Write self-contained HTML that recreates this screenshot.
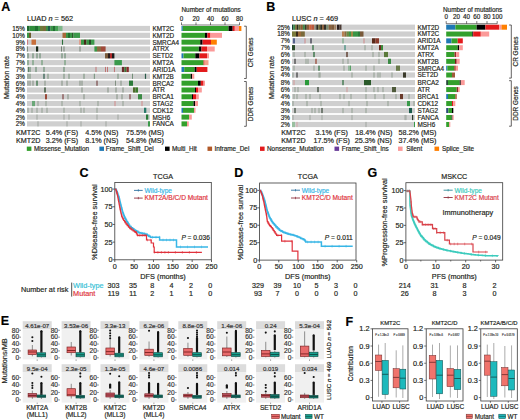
<!DOCTYPE html>
<html><head><meta charset="utf-8"><style>
html,body{margin:0;padding:0;background:#fff;}
svg{display:block;}
text{font-family:"Liberation Sans",sans-serif;stroke-width:0.18px;}
</style></head><body>
<svg width="520" height="420" viewBox="0 0 520 420" fill="#231f20">
<rect width="520" height="420" fill="#fff"/>
<text x="1.3" y="11.2" font-size="12.5" fill="#000" stroke="#000" font-weight="bold">A</text>
<text x="27" y="21.3" font-size="7.3" stroke="#231f20">LUAD <tspan font-style="italic">n</tspan> = 562</text>
<rect x="27" y="25.9" width="123" height="5.2" fill="#cfcfcf"/>
<text x="24.9" y="30.9" font-size="6.3" text-anchor="end" stroke="#231f20">15%</text>
<text x="152.5" y="30.9" font-size="6.4" stroke="#231f20">KMT2C</text>
<rect x="27" y="32.73" width="123" height="5.2" fill="#cfcfcf"/>
<text x="24.9" y="37.73" font-size="6.3" text-anchor="end" stroke="#231f20">10%</text>
<text x="152.5" y="37.73" font-size="6.4" stroke="#231f20">KMT2D</text>
<rect x="27" y="39.56" width="123" height="5.2" fill="#cfcfcf"/>
<text x="24.9" y="44.56" font-size="6.3" text-anchor="end" stroke="#231f20">9%</text>
<text x="152.5" y="44.56" font-size="6.4" stroke="#231f20">SMRCA4</text>
<rect x="27" y="46.39" width="123" height="5.2" fill="#cfcfcf"/>
<text x="24.9" y="51.39" font-size="6.3" text-anchor="end" stroke="#231f20">8%</text>
<text x="152.5" y="51.39" font-size="6.4" stroke="#231f20">ATRX</text>
<rect x="27" y="53.22" width="123" height="5.2" fill="#cfcfcf"/>
<text x="24.9" y="58.22" font-size="6.3" text-anchor="end" stroke="#231f20">7%</text>
<text x="152.5" y="58.22" font-size="6.4" stroke="#231f20">SETD2</text>
<rect x="27" y="60.05" width="123" height="5.2" fill="#cfcfcf"/>
<text x="24.9" y="65.05" font-size="6.3" text-anchor="end" stroke="#231f20">7%</text>
<text x="152.5" y="65.05" font-size="6.4" stroke="#231f20">KMT2A</text>
<rect x="27" y="66.88" width="123" height="5.2" fill="#cfcfcf"/>
<text x="24.9" y="71.88" font-size="6.3" text-anchor="end" stroke="#231f20">7%</text>
<text x="152.5" y="71.88" font-size="6.4" stroke="#231f20">ARID1A</text>
<rect x="27" y="73.71" width="123" height="5.2" fill="#cfcfcf"/>
<text x="24.9" y="78.71" font-size="6.3" text-anchor="end" stroke="#231f20">3%</text>
<text x="152.5" y="78.71" font-size="6.4" stroke="#231f20">KMT2B</text>
<rect x="27" y="80.6" width="123" height="5.2" fill="#cfcfcf"/>
<text x="24.9" y="85.6" font-size="6.3" text-anchor="end" stroke="#231f20">6%</text>
<text x="152.5" y="85.6" font-size="6.4" stroke="#231f20">BRCA2</text>
<rect x="27" y="87.38" width="123" height="5.2" fill="#cfcfcf"/>
<text x="24.9" y="92.38" font-size="6.3" text-anchor="end" stroke="#231f20">5%</text>
<text x="152.5" y="92.38" font-size="6.4" stroke="#231f20">ATR</text>
<rect x="27" y="94.16" width="123" height="5.2" fill="#cfcfcf"/>
<text x="24.9" y="99.16" font-size="6.3" text-anchor="end" stroke="#231f20">4%</text>
<text x="152.5" y="99.16" font-size="6.4" stroke="#231f20">BRCA1</text>
<rect x="27" y="100.94" width="123" height="5.2" fill="#cfcfcf"/>
<text x="24.9" y="105.94" font-size="6.3" text-anchor="end" stroke="#231f20">4%</text>
<text x="152.5" y="105.94" font-size="6.4" stroke="#231f20">STAG2</text>
<rect x="27" y="107.72" width="123" height="5.2" fill="#cfcfcf"/>
<text x="24.9" y="112.72" font-size="6.3" text-anchor="end" stroke="#231f20">4%</text>
<text x="152.5" y="112.72" font-size="6.4" stroke="#231f20">CDK12</text>
<rect x="27" y="114.5" width="123" height="5.2" fill="#cfcfcf"/>
<text x="24.9" y="119.5" font-size="6.3" text-anchor="end" stroke="#231f20">2%</text>
<text x="152.5" y="119.5" font-size="6.4" stroke="#231f20">MSH6</text>
<rect x="27" y="121.28" width="123" height="5.2" fill="#cfcfcf"/>
<text x="24.9" y="126.28" font-size="6.3" text-anchor="end" stroke="#231f20">2%</text>
<text x="152.5" y="126.28" font-size="6.4" stroke="#231f20">FANCA</text>
<rect x="27" y="25.9" width="2.5" height="5.2" fill="#1d6a2c"/>
<rect x="29.5" y="25.9" width="5.5" height="5.2" fill="#2f8d3c"/>
<rect x="35" y="25.9" width="3" height="5.2" fill="#1f6f30"/>
<rect x="38" y="25.9" width="2" height="5.2" fill="#3a9646"/>
<rect x="40" y="25.9" width="3" height="5.2" fill="#6d7a3a"/>
<rect x="43" y="25.9" width="3" height="5.2" fill="#7a6b3c"/>
<rect x="46" y="25.9" width="2" height="5.2" fill="#3c8d44"/>
<rect x="48" y="25.9" width="2.5" height="5.2" fill="#1d5a4c"/>
<rect x="50.5" y="25.9" width="2.5" height="5.2" fill="#3a9646"/>
<rect x="53" y="25.9" width="2" height="5.2" fill="#246e36"/>
<rect x="55" y="25.9" width="3.5" height="5.2" fill="#46a055"/>
<rect x="58.5" y="25.9" width="4" height="5.2" fill="#7fb88a"/>
<rect x="27" y="32.73" width="2" height="5.2" fill="#3a9646"/>
<rect x="29" y="32.73" width="2" height="5.2" fill="#6b5a2c"/>
<rect x="62.5" y="32.73" width="3.5" height="5.2" fill="#a8683a"/>
<rect x="66" y="32.73" width="2" height="5.2" fill="#3a9646"/>
<rect x="68" y="32.73" width="2" height="5.2" fill="#1f6f30"/>
<rect x="70" y="32.73" width="2" height="5.2" fill="#3a9646"/>
<rect x="72" y="32.73" width="1.5" height="5.2" fill="#2a5a2a"/>
<rect x="73.5" y="32.73" width="6.5" height="5.2" fill="#3e9a4c"/>
<rect x="27.15" y="39.56" width="0.9" height="5.2" fill="#d07070"/>
<rect x="31.5" y="39.56" width="4.5" height="5.2" fill="#c8703c"/>
<rect x="61.95" y="39.56" width="1.1" height="5.2" fill="#2c6e3a"/>
<rect x="79" y="39.56" width="2" height="5.2" fill="#e0a090"/>
<rect x="81" y="39.56" width="3" height="5.2" fill="#3a9646"/>
<rect x="84" y="39.56" width="2.5" height="5.2" fill="#4a2a1a"/>
<rect x="86.5" y="39.56" width="2.5" height="5.2" fill="#3a9646"/>
<rect x="89" y="39.56" width="2" height="5.2" fill="#2a4a2a"/>
<rect x="91" y="39.56" width="3.4" height="5.2" fill="#3e9a4c"/>
<rect x="26.85" y="46.39" width="0.9" height="5.2" fill="#6a7a6a"/>
<rect x="61.05" y="46.39" width="0.9" height="5.2" fill="#6a7a6a"/>
<rect x="63.55" y="46.39" width="0.9" height="5.2" fill="#6a7a6a"/>
<rect x="79.55" y="46.39" width="0.9" height="5.2" fill="#6a7a6a"/>
<rect x="36" y="46.39" width="2.2" height="5.2" fill="#1a2a1a"/>
<rect x="94.4" y="46.39" width="2.6" height="5.2" fill="#3a9646"/>
<rect x="97" y="46.39" width="4" height="5.2" fill="#8a6a40"/>
<rect x="101" y="46.39" width="4.6" height="5.2" fill="#a04a3a"/>
<rect x="27.55" y="53.22" width="0.9" height="5.2" fill="#4e7a5a"/>
<rect x="32.55" y="53.22" width="0.9" height="5.2" fill="#4e7a5a"/>
<rect x="36.55" y="53.22" width="0.9" height="5.2" fill="#4e7a5a"/>
<rect x="39.55" y="53.22" width="0.9" height="5.2" fill="#4e7a5a"/>
<rect x="61.55" y="53.22" width="0.9" height="5.2" fill="#4e7a5a"/>
<rect x="64.55" y="53.22" width="0.9" height="5.2" fill="#4e7a5a"/>
<rect x="105" y="53.22" width="3" height="5.2" fill="#7a5a3a"/>
<rect x="108" y="53.22" width="2" height="5.2" fill="#2a1a1a"/>
<rect x="110" y="53.22" width="2" height="5.2" fill="#b02a2a"/>
<rect x="112" y="53.22" width="2.4" height="5.2" fill="#1a1a1a"/>
<rect x="27.55" y="60.05" width="0.9" height="5.2" fill="#4e8a5a"/>
<rect x="32.55" y="60.05" width="0.9" height="5.2" fill="#4e8a5a"/>
<rect x="41.55" y="60.05" width="0.9" height="5.2" fill="#4e8a5a"/>
<rect x="64.55" y="60.05" width="0.9" height="5.2" fill="#4e8a5a"/>
<rect x="114.4" y="60.05" width="7.5" height="5.2" fill="#3a9a4c"/>
<rect x="28.05" y="66.88" width="0.9" height="5.2" fill="#4e7a5a"/>
<rect x="29.55" y="66.88" width="0.9" height="5.2" fill="#4e7a5a"/>
<rect x="35.55" y="66.88" width="0.9" height="5.2" fill="#4e7a5a"/>
<rect x="43.55" y="66.88" width="0.9" height="5.2" fill="#4e7a5a"/>
<rect x="63.55" y="66.88" width="0.9" height="5.2" fill="#4e7a5a"/>
<rect x="95.55" y="66.88" width="0.9" height="5.2" fill="#c06a6a"/>
<rect x="105.05" y="66.88" width="0.9" height="5.2" fill="#c06a6a"/>
<rect x="107.05" y="66.88" width="0.9" height="5.2" fill="#c06a6a"/>
<rect x="113.95" y="66.88" width="0.9" height="5.2" fill="#c06a6a"/>
<rect x="121.9" y="66.88" width="2.6" height="5.2" fill="#6a2a2a"/>
<rect x="124.5" y="66.88" width="2" height="5.2" fill="#3a7a3a"/>
<rect x="126.5" y="66.88" width="2.3" height="5.2" fill="#8a2a2a"/>
<rect x="27.55" y="73.71" width="0.9" height="5.2" fill="#6a8a70"/>
<rect x="29.55" y="73.71" width="0.9" height="5.2" fill="#6a8a70"/>
<rect x="47.55" y="73.71" width="0.9" height="5.2" fill="#6a8a70"/>
<rect x="63.55" y="73.71" width="0.9" height="5.2" fill="#6a8a70"/>
<rect x="68.55" y="73.71" width="0.9" height="5.2" fill="#6a8a70"/>
<rect x="83.55" y="73.71" width="0.9" height="5.2" fill="#6a8a70"/>
<rect x="93.85" y="73.71" width="0.9" height="5.2" fill="#6a8a70"/>
<rect x="117.55" y="73.71" width="0.9" height="5.2" fill="#6a8a70"/>
<rect x="132.05" y="73.71" width="0.9" height="5.2" fill="#6a8a70"/>
<rect x="43.4" y="73.71" width="1.2" height="5.2" fill="#2a5a4a"/>
<rect x="144.9" y="73.71" width="1.2" height="5.2" fill="#2a5a4a"/>
<rect x="27.55" y="80.6" width="0.9" height="5.2" fill="#7a8a7a"/>
<rect x="29.55" y="80.6" width="0.9" height="5.2" fill="#7a8a7a"/>
<rect x="32.55" y="80.6" width="0.9" height="5.2" fill="#7a8a7a"/>
<rect x="44.55" y="80.6" width="0.9" height="5.2" fill="#7a8a7a"/>
<rect x="61.55" y="80.6" width="0.9" height="5.2" fill="#7a8a7a"/>
<rect x="66.55" y="80.6" width="0.9" height="5.2" fill="#7a8a7a"/>
<rect x="79.55" y="80.6" width="0.9" height="5.2" fill="#7a8a7a"/>
<rect x="81.55" y="80.6" width="0.9" height="5.2" fill="#7a8a7a"/>
<rect x="115.05" y="80.6" width="0.9" height="5.2" fill="#7a8a7a"/>
<rect x="120.55" y="80.6" width="0.9" height="5.2" fill="#7a8a7a"/>
<rect x="36.4" y="80.6" width="1.2" height="5.2" fill="#2a6a3a"/>
<rect x="96.4" y="80.6" width="1.2" height="5.2" fill="#7a4a4a"/>
<rect x="129" y="80.6" width="4" height="5.2" fill="#2c7a3a"/>
<rect x="81.55" y="87.38" width="0.9" height="5.2" fill="#7a8a7a"/>
<rect x="107.55" y="87.38" width="0.9" height="5.2" fill="#7a8a7a"/>
<rect x="115.55" y="87.38" width="0.9" height="5.2" fill="#7a8a7a"/>
<rect x="122.55" y="87.38" width="0.9" height="5.2" fill="#7a8a7a"/>
<rect x="44.4" y="87.38" width="1.2" height="5.2" fill="#1a3a1a"/>
<rect x="133" y="87.38" width="2.5" height="5.2" fill="#4e6a2a"/>
<rect x="135.5" y="87.38" width="2.5" height="5.2" fill="#3a7a2a"/>
<rect x="67.55" y="94.16" width="0.9" height="5.2" fill="#7a8a7a"/>
<rect x="83.55" y="94.16" width="0.9" height="5.2" fill="#7a8a7a"/>
<rect x="116.55" y="94.16" width="0.9" height="5.2" fill="#7a8a7a"/>
<rect x="121.55" y="94.16" width="0.9" height="5.2" fill="#7a8a7a"/>
<rect x="45" y="94.16" width="2" height="5.2" fill="#9a4a3a"/>
<rect x="62.45" y="94.16" width="1.1" height="5.2" fill="#7a3a3a"/>
<rect x="129.45" y="94.16" width="1.1" height="5.2" fill="#7a3a3a"/>
<rect x="138" y="94.16" width="4" height="5.2" fill="#3a8a44"/>
<rect x="32" y="100.94" width="3" height="5.2" fill="#6aa878"/>
<rect x="37.55" y="100.94" width="0.9" height="5.2" fill="#8a9a8a"/>
<rect x="45.55" y="100.94" width="0.9" height="5.2" fill="#8a9a8a"/>
<rect x="61.55" y="100.94" width="0.9" height="5.2" fill="#8a9a8a"/>
<rect x="79.55" y="100.94" width="0.9" height="5.2" fill="#8a9a8a"/>
<rect x="97.55" y="100.94" width="0.9" height="5.2" fill="#8a9a8a"/>
<rect x="122.55" y="100.94" width="0.9" height="5.2" fill="#8a9a8a"/>
<rect x="114.55" y="100.94" width="0.9" height="5.2" fill="#d08080"/>
<rect x="141.55" y="100.94" width="0.9" height="5.2" fill="#d08080"/>
<rect x="27.55" y="107.72" width="0.9" height="5.2" fill="#8a9a8a"/>
<rect x="31.55" y="107.72" width="0.9" height="5.2" fill="#8a9a8a"/>
<rect x="36.55" y="107.72" width="0.9" height="5.2" fill="#8a9a8a"/>
<rect x="41.55" y="107.72" width="0.9" height="5.2" fill="#8a9a8a"/>
<rect x="46.55" y="107.72" width="0.9" height="5.2" fill="#8a9a8a"/>
<rect x="63.55" y="107.72" width="0.9" height="5.2" fill="#8a9a8a"/>
<rect x="80.55" y="107.72" width="0.9" height="5.2" fill="#8a9a8a"/>
<rect x="83.55" y="107.72" width="0.9" height="5.2" fill="#8a9a8a"/>
<rect x="96.55" y="107.72" width="0.9" height="5.2" fill="#8a9a8a"/>
<rect x="144" y="107.72" width="2.3" height="5.2" fill="#2a7a6a"/>
<rect x="36.55" y="114.5" width="0.9" height="5.2" fill="#9aa09a"/>
<rect x="63.55" y="114.5" width="0.9" height="5.2" fill="#9aa09a"/>
<rect x="68.55" y="114.5" width="0.9" height="5.2" fill="#9aa09a"/>
<rect x="96.55" y="114.5" width="0.9" height="5.2" fill="#9aa09a"/>
<rect x="117.55" y="114.5" width="0.9" height="5.2" fill="#9aa09a"/>
<rect x="146" y="114.5" width="2.3" height="5.2" fill="#2a7a3a"/>
<rect x="37.55" y="121.28" width="0.9" height="5.2" fill="#9aa09a"/>
<rect x="66.55" y="121.28" width="0.9" height="5.2" fill="#9aa09a"/>
<rect x="80.55" y="121.28" width="0.9" height="5.2" fill="#9aa09a"/>
<rect x="105.55" y="121.28" width="0.9" height="5.2" fill="#9aa09a"/>
<rect x="148" y="121.28" width="2" height="5.2" fill="#3a9a4a"/>
<rect x="181.5" y="26" width="1.3" height="5" fill="#1f78b4"/>
<rect x="182.8" y="26" width="45.7" height="5" fill="#33a02c"/>
<rect x="228.5" y="26" width="4.2" height="5" fill="#000000"/>
<rect x="232.7" y="26" width="2.1" height="5" fill="#e31a1c"/>
<rect x="234.8" y="26" width="4.2" height="5" fill="#fb9a99"/>
<rect x="239" y="26" width="2.4" height="5" fill="#ff7f00"/>
<rect x="181.5" y="32.83" width="23.5" height="5" fill="#33a02c"/>
<rect x="205" y="32.83" width="2.4" height="5" fill="#000000"/>
<rect x="207.4" y="32.83" width="3.1" height="5" fill="#e31a1c"/>
<rect x="210.5" y="32.83" width="11.5" height="5" fill="#fb9a99"/>
<rect x="181.5" y="39.66" width="18.7" height="5" fill="#33a02c"/>
<rect x="200.2" y="39.66" width="2.4" height="5" fill="#000000"/>
<rect x="202.6" y="39.66" width="8.4" height="5" fill="#e31a1c"/>
<rect x="211" y="39.66" width="5.8" height="5" fill="#ff7f00"/>
<rect x="181.5" y="46.49" width="17.3" height="5" fill="#33a02c"/>
<rect x="198.8" y="46.49" width="2.7" height="5" fill="#000000"/>
<rect x="201.5" y="46.49" width="5.5" height="5" fill="#e31a1c"/>
<rect x="207" y="46.49" width="7.7" height="5" fill="#fb9a99"/>
<rect x="181.5" y="53.32" width="2" height="5" fill="#1f78b4"/>
<rect x="183.5" y="53.32" width="11.8" height="5" fill="#33a02c"/>
<rect x="195.3" y="53.32" width="4.2" height="5" fill="#000000"/>
<rect x="199.5" y="53.32" width="7.5" height="5" fill="#e31a1c"/>
<rect x="207" y="53.32" width="2" height="5" fill="#fb9a99"/>
<rect x="181.5" y="60.15" width="22.1" height="5" fill="#33a02c"/>
<rect x="203.6" y="60.15" width="1" height="5" fill="#e31a1c"/>
<rect x="204.6" y="60.15" width="3.9" height="5" fill="#f4a08a"/>
<rect x="181.5" y="66.98" width="2.7" height="5" fill="#1f78b4"/>
<rect x="184.2" y="66.98" width="10.4" height="5" fill="#33a02c"/>
<rect x="194.6" y="66.98" width="2.1" height="5" fill="#000000"/>
<rect x="196.7" y="66.98" width="10.7" height="5" fill="#e31a1c"/>
<rect x="181.5" y="73.81" width="9.2" height="5" fill="#33a02c"/>
<rect x="190.7" y="73.81" width="1.4" height="5" fill="#000000"/>
<rect x="192.1" y="73.81" width="2.2" height="5" fill="#fb9a99"/>
<rect x="181.5" y="80.7" width="16.5" height="5" fill="#33a02c"/>
<rect x="198" y="80.7" width="2.8" height="5" fill="#000000"/>
<rect x="200.8" y="80.7" width="2.8" height="5" fill="#e31a1c"/>
<rect x="203.6" y="80.7" width="1.4" height="5" fill="#fb9a99"/>
<rect x="181.5" y="87.48" width="13.4" height="5" fill="#33a02c"/>
<rect x="194.9" y="87.48" width="1.1" height="5" fill="#000000"/>
<rect x="196" y="87.48" width="2" height="5" fill="#e31a1c"/>
<rect x="198" y="87.48" width="3.8" height="5" fill="#fb9a99"/>
<rect x="181.5" y="94.26" width="10.4" height="5" fill="#33a02c"/>
<rect x="191.9" y="94.26" width="1.1" height="5" fill="#000000"/>
<rect x="193" y="94.26" width="3" height="5" fill="#e31a1c"/>
<rect x="196" y="94.26" width="2.8" height="5" fill="#fb9a99"/>
<rect x="181.5" y="101.04" width="12" height="5" fill="#33a02c"/>
<rect x="193.5" y="101.04" width="1.5" height="5" fill="#000000"/>
<rect x="195" y="101.04" width="3" height="5" fill="#fb9a99"/>
<rect x="181.5" y="107.82" width="1.5" height="5" fill="#1f78b4"/>
<rect x="183" y="107.82" width="11" height="5" fill="#33a02c"/>
<rect x="194" y="107.82" width="1.5" height="5" fill="#fb9a99"/>
<rect x="181.5" y="114.6" width="7.5" height="5" fill="#33a02c"/>
<rect x="189" y="114.6" width="2.8" height="5" fill="#fb9a99"/>
<rect x="181.5" y="121.38" width="5.5" height="5" fill="#33a02c"/>
<rect x="187" y="121.38" width="1.8" height="5" fill="#fb9a99"/>
<line x1="181.5" y1="25" x2="239.5" y2="25" stroke="#231f20" stroke-width="0.6"/>
<line x1="181.5" y1="22.4" x2="181.5" y2="25" stroke="#231f20" stroke-width="0.6"/>
<text x="181.5" y="20.7" font-size="6.3" text-anchor="middle" stroke="#231f20">0</text>
<line x1="196" y1="22.4" x2="196" y2="25" stroke="#231f20" stroke-width="0.6"/>
<text x="196" y="20.7" font-size="6.3" text-anchor="middle" stroke="#231f20">20</text>
<line x1="210.5" y1="22.4" x2="210.5" y2="25" stroke="#231f20" stroke-width="0.6"/>
<text x="210.5" y="20.7" font-size="6.3" text-anchor="middle" stroke="#231f20">40</text>
<line x1="225" y1="22.4" x2="225" y2="25" stroke="#231f20" stroke-width="0.6"/>
<text x="225" y="20.7" font-size="6.3" text-anchor="middle" stroke="#231f20">60</text>
<line x1="239.5" y1="22.4" x2="239.5" y2="25" stroke="#231f20" stroke-width="0.6"/>
<text x="239.5" y="20.7" font-size="6.3" text-anchor="middle" stroke="#231f20">80</text>
<text x="181.5" y="11.5" font-size="6.4" stroke="#231f20">Number of mutations</text>
<polyline points="244.1,26.2 246.3,26.2 246.3,78.5 244.1,78.5" fill="none" stroke="#231f20" stroke-width="0.7"/>
<text x="253.5" y="52.35" font-size="6.4" text-anchor="middle" stroke="#231f20" transform="rotate(-90 253.5 52.35)">CR Genes</text>
<polyline points="244.1,81.5 246.3,81.5 246.3,126.3 244.1,126.3" fill="none" stroke="#231f20" stroke-width="0.7"/>
<text x="253.5" y="103.9" font-size="6.4" text-anchor="middle" stroke="#231f20" transform="rotate(-90 253.5 103.9)">DDR Genes</text>
<text x="9.3" y="77.5" font-size="7.4" text-anchor="middle" stroke="#231f20" transform="rotate(-90 9.3 77.5)">Mutation rate</text>
<text x="266.3" y="11.2" font-size="12.5" fill="#000" stroke="#000" font-weight="bold">B</text>
<text x="292" y="21.3" font-size="7.3" stroke="#231f20">LUSC <tspan font-style="italic">n</tspan> = 469</text>
<rect x="292" y="24.6" width="123" height="5.2" fill="#cfcfcf"/>
<text x="289.9" y="29.6" font-size="6.3" text-anchor="end" stroke="#231f20">25%</text>
<text x="417.5" y="29.6" font-size="6.4" stroke="#231f20">KMT2D</text>
<rect x="292" y="31.43" width="123" height="5.2" fill="#cfcfcf"/>
<text x="289.9" y="36.43" font-size="6.3" text-anchor="end" stroke="#231f20">18%</text>
<text x="417.5" y="36.43" font-size="6.4" stroke="#231f20">KMT2C</text>
<rect x="292" y="38.26" width="123" height="5.2" fill="#cfcfcf"/>
<text x="289.9" y="43.26" font-size="6.3" text-anchor="end" stroke="#231f20">7%</text>
<text x="417.5" y="43.26" font-size="6.4" stroke="#231f20">ARID1A</text>
<rect x="292" y="45.09" width="123" height="5.2" fill="#cfcfcf"/>
<text x="289.9" y="50.09" font-size="6.3" text-anchor="end" stroke="#231f20">7%</text>
<text x="417.5" y="50.09" font-size="6.4" stroke="#231f20">KMT2A</text>
<rect x="292" y="51.92" width="123" height="5.2" fill="#cfcfcf"/>
<text x="289.9" y="56.92" font-size="6.3" text-anchor="end" stroke="#231f20">6%</text>
<text x="417.5" y="56.92" font-size="6.4" stroke="#231f20">ATRX</text>
<rect x="292" y="58.75" width="123" height="5.2" fill="#cfcfcf"/>
<text x="289.9" y="63.75" font-size="6.3" text-anchor="end" stroke="#231f20">6%</text>
<text x="417.5" y="63.75" font-size="6.4" stroke="#231f20">KMT2B</text>
<rect x="292" y="65.58" width="123" height="5.2" fill="#cfcfcf"/>
<text x="289.9" y="70.58" font-size="6.3" text-anchor="end" stroke="#231f20">5%</text>
<text x="417.5" y="70.58" font-size="6.4" stroke="#231f20">SMRCA4</text>
<rect x="292" y="72.41" width="123" height="5.2" fill="#cfcfcf"/>
<text x="289.9" y="77.41" font-size="6.3" text-anchor="end" stroke="#231f20">4%</text>
<text x="417.5" y="77.41" font-size="6.4" stroke="#231f20">SET2D</text>
<rect x="292" y="80" width="123" height="5.2" fill="#cfcfcf"/>
<text x="289.9" y="85" font-size="6.3" text-anchor="end" stroke="#231f20">8%</text>
<text x="417.5" y="85" font-size="6.4" stroke="#231f20">BRCA2</text>
<rect x="292" y="86.98" width="123" height="5.2" fill="#cfcfcf"/>
<text x="289.9" y="91.98" font-size="6.3" text-anchor="end" stroke="#231f20">6%</text>
<text x="417.5" y="91.98" font-size="6.4" stroke="#231f20">ATR</text>
<rect x="292" y="93.96" width="123" height="5.2" fill="#cfcfcf"/>
<text x="289.9" y="98.96" font-size="6.3" text-anchor="end" stroke="#231f20">4%</text>
<text x="417.5" y="98.96" font-size="6.4" stroke="#231f20">BRCA1</text>
<rect x="292" y="100.94" width="123" height="5.2" fill="#cfcfcf"/>
<text x="289.9" y="105.94" font-size="6.3" text-anchor="end" stroke="#231f20">4%</text>
<text x="417.5" y="105.94" font-size="6.4" stroke="#231f20">CDK12</text>
<rect x="292" y="107.92" width="123" height="5.2" fill="#cfcfcf"/>
<text x="289.9" y="112.92" font-size="6.3" text-anchor="end" stroke="#231f20">3%</text>
<text x="417.5" y="112.92" font-size="6.4" stroke="#231f20">STAG2</text>
<rect x="292" y="114.9" width="123" height="5.2" fill="#cfcfcf"/>
<text x="289.9" y="119.9" font-size="6.3" text-anchor="end" stroke="#231f20">3%</text>
<text x="417.5" y="119.9" font-size="6.4" stroke="#231f20">FANCA</text>
<rect x="292" y="121.88" width="123" height="5.2" fill="#cfcfcf"/>
<text x="289.9" y="126.88" font-size="6.3" text-anchor="end" stroke="#231f20">2%</text>
<text x="417.5" y="126.88" font-size="6.4" stroke="#231f20">MSH6</text>
<rect x="292" y="24.6" width="1.2" height="5.2" fill="#1a3a34"/>
<rect x="293.2" y="24.6" width="1.9" height="5.2" fill="#3a8a4a"/>
<rect x="295.1" y="24.6" width="1.9" height="5.2" fill="#7a6a3a"/>
<rect x="297" y="24.6" width="1.4" height="5.2" fill="#2a2a1e"/>
<rect x="298.4" y="24.6" width="1.9" height="5.2" fill="#6a6e36"/>
<rect x="300.3" y="24.6" width="2.6" height="5.2" fill="#8a5e36"/>
<rect x="302.9" y="24.6" width="1.9" height="5.2" fill="#3e8a48"/>
<rect x="304.8" y="24.6" width="1.9" height="5.2" fill="#3a3a26"/>
<rect x="306.7" y="24.6" width="2.6" height="5.2" fill="#8a5a36"/>
<rect x="309.3" y="24.6" width="1.9" height="5.2" fill="#d0603a"/>
<rect x="311.2" y="24.6" width="3.2" height="5.2" fill="#b85a3e"/>
<rect x="314.4" y="24.6" width="1.9" height="5.2" fill="#8a8a7a"/>
<rect x="316.3" y="24.6" width="2" height="5.2" fill="#2a2a1e"/>
<rect x="318.3" y="24.6" width="1.9" height="5.2" fill="#6e6a3a"/>
<rect x="320.2" y="24.6" width="1.9" height="5.2" fill="#2e2e22"/>
<rect x="322.1" y="24.6" width="1.9" height="5.2" fill="#8a5e3a"/>
<rect x="324" y="24.6" width="2" height="5.2" fill="#34302a"/>
<rect x="326" y="24.6" width="2.6" height="5.2" fill="#7a8a72"/>
<rect x="328.6" y="24.6" width="2.5" height="5.2" fill="#8a623e"/>
<rect x="331.1" y="24.6" width="3.2" height="5.2" fill="#7e5a3a"/>
<rect x="334.3" y="24.6" width="2" height="5.2" fill="#a08060"/>
<rect x="336.3" y="24.6" width="0.7" height="5.2" fill="#c0b0a8"/>
<rect x="337" y="24.6" width="2.5" height="5.2" fill="#2a1e1e"/>
<rect x="339.5" y="24.6" width="1.9" height="5.2" fill="#4a3a34"/>
<rect x="341.4" y="24.6" width="0.6" height="5.2" fill="#8a8080"/>
<rect x="292" y="31.43" width="4" height="5.2" fill="#7a7a3a"/>
<rect x="296" y="31.43" width="2" height="5.2" fill="#3a2a1a"/>
<rect x="298" y="31.43" width="3" height="5.2" fill="#9a6a3a"/>
<rect x="301" y="31.43" width="3.8" height="5.2" fill="#7a6a3a"/>
<rect x="342" y="31.43" width="2.5" height="5.2" fill="#b88050"/>
<rect x="344.5" y="31.43" width="2" height="5.2" fill="#8a6a3e"/>
<rect x="346.5" y="31.43" width="2.5" height="5.2" fill="#6a8a44"/>
<rect x="349" y="31.43" width="2" height="5.2" fill="#3a9646"/>
<rect x="351" y="31.43" width="2" height="5.2" fill="#a08a44"/>
<rect x="353" y="31.43" width="5" height="5.2" fill="#3a9646"/>
<rect x="358" y="31.43" width="2" height="5.2" fill="#2e7a3a"/>
<rect x="360" y="31.43" width="3.5" height="5.2" fill="#7a5a3a"/>
<rect x="292" y="38.26" width="13" height="5.2" fill="#c8ccd6"/>
<rect x="293.2" y="38.26" width="1.6" height="5.2" fill="#3a4a7a"/>
<rect x="304.45" y="38.26" width="1.1" height="5.2" fill="#d09090"/>
<rect x="363.45" y="38.26" width="1.1" height="5.2" fill="#d09090"/>
<rect x="310.35" y="38.26" width="1.3" height="5.2" fill="#3a3a4a"/>
<rect x="342.55" y="38.26" width="0.9" height="5.2" fill="#5a9a6a"/>
<rect x="372" y="38.26" width="3.5" height="5.2" fill="#5a2a1a"/>
<rect x="375.5" y="38.26" width="3.5" height="5.2" fill="#8a3a2a"/>
<rect x="292" y="45.09" width="3" height="5.2" fill="#2a4a2a"/>
<rect x="312.4" y="45.09" width="1.2" height="5.2" fill="#2a6a3a"/>
<rect x="344.4" y="45.09" width="1.2" height="5.2" fill="#3a8a7a"/>
<rect x="364.55" y="45.09" width="0.9" height="5.2" fill="#8a9a8a"/>
<rect x="371.55" y="45.09" width="0.9" height="5.2" fill="#8a9a8a"/>
<rect x="379" y="45.09" width="2" height="5.2" fill="#6a2a1a"/>
<rect x="381" y="45.09" width="2" height="5.2" fill="#3a8a3a"/>
<rect x="293.55" y="51.92" width="0.9" height="5.2" fill="#8a9a8a"/>
<rect x="304.55" y="51.92" width="0.9" height="5.2" fill="#8a9a8a"/>
<rect x="372.55" y="51.92" width="0.9" height="5.2" fill="#8a9a8a"/>
<rect x="378.55" y="51.92" width="0.9" height="5.2" fill="#8a9a8a"/>
<rect x="313.35" y="51.92" width="1.3" height="5.2" fill="#2a6a3a"/>
<rect x="346.3" y="51.92" width="1.4" height="5.2" fill="#5a3a2a"/>
<rect x="384" y="51.92" width="4" height="5.2" fill="#5a7a3a"/>
<rect x="305.55" y="58.75" width="0.9" height="5.2" fill="#8a9a8a"/>
<rect x="307.55" y="58.75" width="0.9" height="5.2" fill="#8a9a8a"/>
<rect x="342.55" y="58.75" width="0.9" height="5.2" fill="#8a9a8a"/>
<rect x="347.55" y="58.75" width="0.9" height="5.2" fill="#8a9a8a"/>
<rect x="378.55" y="58.75" width="0.9" height="5.2" fill="#8a9a8a"/>
<rect x="294.4" y="58.75" width="1.2" height="5.2" fill="#3a3a3a"/>
<rect x="315.35" y="58.75" width="1.3" height="5.2" fill="#9a4a3a"/>
<rect x="388" y="58.75" width="3" height="5.2" fill="#3a8a44"/>
<rect x="293.55" y="65.58" width="0.9" height="5.2" fill="#8a9a8a"/>
<rect x="313.55" y="65.58" width="0.9" height="5.2" fill="#8a9a8a"/>
<rect x="343.55" y="65.58" width="0.9" height="5.2" fill="#8a9a8a"/>
<rect x="365.55" y="65.58" width="0.9" height="5.2" fill="#8a9a8a"/>
<rect x="373.55" y="65.58" width="0.9" height="5.2" fill="#8a9a8a"/>
<rect x="318.4" y="65.58" width="1.2" height="5.2" fill="#2a6a3a"/>
<rect x="348.55" y="65.58" width="0.9" height="5.2" fill="#4a9a5a"/>
<rect x="350.05" y="65.58" width="0.9" height="5.2" fill="#4a9a5a"/>
<rect x="396" y="65.58" width="4" height="5.2" fill="#6a7a4a"/>
<rect x="292.55" y="72.41" width="0.9" height="5.2" fill="#8a9a8a"/>
<rect x="318.55" y="72.41" width="0.9" height="5.2" fill="#8a9a8a"/>
<rect x="319.55" y="72.41" width="0.9" height="5.2" fill="#8a9a8a"/>
<rect x="351.55" y="72.41" width="0.9" height="5.2" fill="#8a9a8a"/>
<rect x="373.55" y="72.41" width="0.9" height="5.2" fill="#8a9a8a"/>
<rect x="377.55" y="72.41" width="0.9" height="5.2" fill="#8a9a8a"/>
<rect x="379.55" y="72.41" width="0.9" height="5.2" fill="#8a9a8a"/>
<rect x="391.55" y="72.41" width="0.9" height="5.2" fill="#8a9a8a"/>
<rect x="296.4" y="72.41" width="1.2" height="5.2" fill="#3a3a3a"/>
<rect x="403" y="72.41" width="3" height="5.2" fill="#3a3a2a"/>
<rect x="293.55" y="80" width="0.9" height="5.2" fill="#d09090"/>
<rect x="305" y="80" width="4" height="5.2" fill="#2a9a3a"/>
<rect x="342.4" y="80" width="1.2" height="5.2" fill="#2a6a3a"/>
<rect x="364" y="80" width="7" height="5.2" fill="#2a5a2a"/>
<rect x="294.55" y="86.98" width="0.9" height="5.2" fill="#8a9a8a"/>
<rect x="297.55" y="86.98" width="0.9" height="5.2" fill="#8a9a8a"/>
<rect x="365.55" y="86.98" width="0.9" height="5.2" fill="#8a9a8a"/>
<rect x="373.55" y="86.98" width="0.9" height="5.2" fill="#8a9a8a"/>
<rect x="377.55" y="86.98" width="0.9" height="5.2" fill="#8a9a8a"/>
<rect x="382.55" y="86.98" width="0.9" height="5.2" fill="#8a9a8a"/>
<rect x="317.4" y="86.98" width="1.2" height="5.2" fill="#2a3a2a"/>
<rect x="346.55" y="86.98" width="0.9" height="5.2" fill="#d09090"/>
<rect x="392" y="86.98" width="4" height="5.2" fill="#4e5a3a"/>
<rect x="293.55" y="93.96" width="0.9" height="5.2" fill="#8a9a8a"/>
<rect x="296.55" y="93.96" width="0.9" height="5.2" fill="#8a9a8a"/>
<rect x="305.55" y="93.96" width="0.9" height="5.2" fill="#8a9a8a"/>
<rect x="309.55" y="93.96" width="0.9" height="5.2" fill="#8a9a8a"/>
<rect x="319.55" y="93.96" width="0.9" height="5.2" fill="#8a9a8a"/>
<rect x="339.55" y="93.96" width="0.9" height="5.2" fill="#8a9a8a"/>
<rect x="343.55" y="93.96" width="0.9" height="5.2" fill="#8a9a8a"/>
<rect x="350.55" y="93.96" width="0.9" height="5.2" fill="#8a9a8a"/>
<rect x="365.55" y="93.96" width="0.9" height="5.2" fill="#8a9a8a"/>
<rect x="374.55" y="93.96" width="0.9" height="5.2" fill="#8a9a8a"/>
<rect x="383.55" y="93.96" width="0.9" height="5.2" fill="#8a9a8a"/>
<rect x="395.55" y="93.96" width="0.9" height="5.2" fill="#8a9a8a"/>
<rect x="408.55" y="93.96" width="0.9" height="5.2" fill="#8a9a8a"/>
<rect x="400" y="93.96" width="3" height="5.2" fill="#6a3a2a"/>
<rect x="292.55" y="100.94" width="0.9" height="5.2" fill="#8a9a8a"/>
<rect x="306.55" y="100.94" width="0.9" height="5.2" fill="#8a9a8a"/>
<rect x="320.55" y="100.94" width="0.9" height="5.2" fill="#8a9a8a"/>
<rect x="348.55" y="100.94" width="0.9" height="5.2" fill="#8a9a8a"/>
<rect x="366.55" y="100.94" width="0.9" height="5.2" fill="#8a9a8a"/>
<rect x="387.55" y="100.94" width="0.9" height="5.2" fill="#8a9a8a"/>
<rect x="413.55" y="100.94" width="0.9" height="5.2" fill="#8a9a8a"/>
<rect x="407" y="100.94" width="3" height="5.2" fill="#3a9a4a"/>
<rect x="311.55" y="107.92" width="0.9" height="5.2" fill="#8a9a8a"/>
<rect x="314.55" y="107.92" width="0.9" height="5.2" fill="#8a9a8a"/>
<rect x="318.55" y="107.92" width="0.9" height="5.2" fill="#8a9a8a"/>
<rect x="342.55" y="107.92" width="0.9" height="5.2" fill="#8a9a8a"/>
<rect x="351.55" y="107.92" width="0.9" height="5.2" fill="#8a9a8a"/>
<rect x="365.55" y="107.92" width="0.9" height="5.2" fill="#8a9a8a"/>
<rect x="294.45" y="107.92" width="1.1" height="5.2" fill="#2a3a2a"/>
<rect x="321.45" y="107.92" width="1.1" height="5.2" fill="#2a3a2a"/>
<rect x="409" y="107.92" width="3" height="5.2" fill="#1a5a4a"/>
<rect x="292.55" y="114.9" width="0.9" height="5.2" fill="#9aa09a"/>
<rect x="309.55" y="114.9" width="0.9" height="5.2" fill="#9aa09a"/>
<rect x="321.55" y="114.9" width="0.9" height="5.2" fill="#9aa09a"/>
<rect x="351.55" y="114.9" width="0.9" height="5.2" fill="#9aa09a"/>
<rect x="404.55" y="114.9" width="0.9" height="5.2" fill="#9aa09a"/>
<rect x="405.55" y="114.9" width="0.9" height="5.2" fill="#9aa09a"/>
<rect x="412" y="114.9" width="1.2" height="5.2" fill="#2a3a2a"/>
<rect x="292" y="121.88" width="3" height="5.2" fill="#9ac0a0"/>
<rect x="296.55" y="121.88" width="0.9" height="5.2" fill="#d0a0a0"/>
<rect x="365.55" y="121.88" width="0.9" height="5.2" fill="#9aa09a"/>
<rect x="414" y="121.88" width="1" height="5.2" fill="#3a9a4a"/>
<rect x="446.2" y="24.7" width="9.2" height="5" fill="#1f78b4"/>
<rect x="455.4" y="24.7" width="21.2" height="5" fill="#33a02c"/>
<rect x="476.6" y="24.7" width="8.8" height="5" fill="#000000"/>
<rect x="485.4" y="24.7" width="13.8" height="5" fill="#e31a1c"/>
<rect x="499.2" y="24.7" width="2.3" height="5" fill="#fb9a99"/>
<rect x="501.5" y="24.7" width="5.5" height="5" fill="#ff7f00"/>
<rect x="446.2" y="31.53" width="26.1" height="5" fill="#33a02c"/>
<rect x="472.3" y="31.53" width="0.9" height="5" fill="#000000"/>
<rect x="473.2" y="31.53" width="7.6" height="5" fill="#e31a1c"/>
<rect x="480.8" y="31.53" width="8.4" height="5" fill="#fb9a99"/>
<rect x="446.2" y="38.36" width="5.3" height="5" fill="#1f78b4"/>
<rect x="451.5" y="38.36" width="6.2" height="5" fill="#33a02c"/>
<rect x="457.7" y="38.36" width="5.1" height="5" fill="#e31a1c"/>
<rect x="446.2" y="45.19" width="11.5" height="5" fill="#33a02c"/>
<rect x="457.7" y="45.19" width="1.5" height="5" fill="#000000"/>
<rect x="459.2" y="45.19" width="3.6" height="5" fill="#fb9a99"/>
<rect x="446.2" y="52.02" width="8.4" height="5" fill="#33a02c"/>
<rect x="454.6" y="52.02" width="1.6" height="5" fill="#9a2a2a"/>
<rect x="456.2" y="52.02" width="3" height="5" fill="#fb9a99"/>
<rect x="446.2" y="58.85" width="8.8" height="5" fill="#33a02c"/>
<rect x="455" y="58.85" width="1.7" height="5" fill="#7a1a1a"/>
<rect x="456.7" y="58.85" width="3" height="5" fill="#fb9a99"/>
<rect x="446.2" y="65.68" width="1.1" height="5" fill="#1f78b4"/>
<rect x="447.3" y="65.68" width="6.9" height="5" fill="#33a02c"/>
<rect x="454.2" y="65.68" width="1.6" height="5" fill="#a0402a"/>
<rect x="455.8" y="65.68" width="2.2" height="5" fill="#fb9a99"/>
<rect x="446.2" y="72.51" width="5.8" height="5" fill="#33a02c"/>
<rect x="452" y="72.51" width="3" height="5" fill="#a05a3a"/>
<rect x="446.2" y="80.1" width="1.8" height="5" fill="#2a4a3a"/>
<rect x="448" y="80.1" width="11.7" height="5" fill="#33a02c"/>
<rect x="459.7" y="80.1" width="1.1" height="5" fill="#000000"/>
<rect x="460.8" y="80.1" width="3.9" height="5" fill="#fb9a99"/>
<rect x="446.2" y="87.08" width="10.5" height="5" fill="#33a02c"/>
<rect x="456.7" y="87.08" width="1.3" height="5" fill="#8a2a2a"/>
<rect x="458" y="87.08" width="1.7" height="5" fill="#fb9a99"/>
<rect x="446.2" y="94.06" width="1.8" height="5" fill="#1f78b4"/>
<rect x="448" y="94.06" width="7.3" height="5" fill="#33a02c"/>
<rect x="455.3" y="94.06" width="1.4" height="5" fill="#a0502a"/>
<rect x="446.2" y="101.04" width="5.8" height="5" fill="#33a02c"/>
<rect x="452" y="101.04" width="1.3" height="5" fill="#e31a1c"/>
<rect x="453.3" y="101.04" width="2" height="5" fill="#fb9a99"/>
<rect x="446.2" y="108.02" width="2.1" height="5" fill="#2a4a7a"/>
<rect x="448.3" y="108.02" width="3.7" height="5" fill="#33a02c"/>
<rect x="452" y="108.02" width="1.3" height="5" fill="#000000"/>
<rect x="446.2" y="115" width="5.5" height="5" fill="#33a02c"/>
<rect x="451.7" y="115" width="0.8" height="5" fill="#000000"/>
<rect x="452.5" y="115" width="1.2" height="5" fill="#fb9a99"/>
<rect x="446.2" y="121.98" width="3" height="5" fill="#33a02c"/>
<rect x="449.2" y="121.98" width="1.1" height="5" fill="#fb9a99"/>
<line x1="446.2" y1="23.7" x2="497.2" y2="23.7" stroke="#231f20" stroke-width="0.6"/>
<line x1="446.2" y1="21.1" x2="446.2" y2="23.7" stroke="#231f20" stroke-width="0.6"/>
<text x="446.2" y="19.4" font-size="6.3" text-anchor="middle" stroke="#231f20">0</text>
<line x1="456.4" y1="21.1" x2="456.4" y2="23.7" stroke="#231f20" stroke-width="0.6"/>
<text x="456.4" y="19.4" font-size="6.3" text-anchor="middle" stroke="#231f20">20</text>
<line x1="466.6" y1="21.1" x2="466.6" y2="23.7" stroke="#231f20" stroke-width="0.6"/>
<text x="466.6" y="19.4" font-size="6.3" text-anchor="middle" stroke="#231f20">40</text>
<line x1="476.8" y1="21.1" x2="476.8" y2="23.7" stroke="#231f20" stroke-width="0.6"/>
<text x="476.8" y="19.4" font-size="6.3" text-anchor="middle" stroke="#231f20">60</text>
<line x1="487" y1="21.1" x2="487" y2="23.7" stroke="#231f20" stroke-width="0.6"/>
<text x="487" y="19.4" font-size="6.3" text-anchor="middle" stroke="#231f20">80</text>
<line x1="497.2" y1="21.1" x2="497.2" y2="23.7" stroke="#231f20" stroke-width="0.6"/>
<text x="497.2" y="19.4" font-size="6.3" text-anchor="middle" stroke="#231f20">100</text>
<text x="443" y="11.5" font-size="6.4" stroke="#231f20">Number of mutations</text>
<polyline points="509.1,25 511.3,25 511.3,78.1 509.1,78.1" fill="none" stroke="#231f20" stroke-width="0.7"/>
<text x="518.5" y="51.55" font-size="6.4" text-anchor="middle" stroke="#231f20" transform="rotate(-90 518.5 51.55)">CR Genes</text>
<polyline points="509.1,80.7 511.3,80.7 511.3,126.2 509.1,126.2" fill="none" stroke="#231f20" stroke-width="0.7"/>
<text x="518.5" y="103.45" font-size="6.4" text-anchor="middle" stroke="#231f20" transform="rotate(-90 518.5 103.45)">DDR Genes</text>
<text x="274.3" y="77.5" font-size="7.4" text-anchor="middle" stroke="#231f20" transform="rotate(-90 274.3 77.5)">Mutation rate</text>
<text x="16" y="134.7" font-size="7.2" stroke="#231f20">KMT2C</text>
<text x="45.8" y="134.7" font-size="7.2" stroke="#231f20">5.4% (FS)</text>
<text x="85.2" y="134.7" font-size="7.2" stroke="#231f20">4.5% (NS)</text>
<text x="126" y="134.7" font-size="7.2" stroke="#231f20">75.5% (MS)</text>
<text x="16" y="143.1" font-size="7.2" stroke="#231f20">KMT2D</text>
<text x="45.8" y="143.1" font-size="7.2" stroke="#231f20">3.2% (FS)</text>
<text x="85.2" y="143.1" font-size="7.2" stroke="#231f20">8.1% (NS)</text>
<text x="126" y="143.1" font-size="7.2" stroke="#231f20">54.8% (MS)</text>
<text x="281.3" y="134.7" font-size="7.2" stroke="#231f20">KMT2C</text>
<text x="315.5" y="134.7" font-size="7.2" stroke="#231f20">3.1% (FS)</text>
<text x="355.3" y="134.7" font-size="7.2" stroke="#231f20">18.4% (NS)</text>
<text x="398.5" y="134.7" font-size="7.2" stroke="#231f20">58.2% (MS)</text>
<text x="281.3" y="143.1" font-size="7.2" stroke="#231f20">KMT2D</text>
<text x="313.5" y="143.1" font-size="7.2" stroke="#231f20">17.5% (FS)</text>
<text x="354.8" y="143.1" font-size="7.2" stroke="#231f20">25.3% (NS)</text>
<text x="398.5" y="143.1" font-size="7.2" stroke="#231f20">37.4% (MS)</text>
<rect x="26.8" y="146.6" width="4.6" height="4.3" fill="#33a02c"/>
<text x="34" y="151.3" font-size="6.4" stroke="#231f20">Missense_Mutation</text>
<rect x="99.4" y="146.6" width="4.6" height="4.3" fill="#1f78b4"/>
<text x="105.8" y="151.3" font-size="6.4" stroke="#231f20">Frame_Shift_Del</text>
<rect x="165" y="146.6" width="4.6" height="4.3" fill="#000000"/>
<text x="172" y="151.3" font-size="6.4" stroke="#231f20">Multi_Hit</text>
<rect x="207.5" y="146.6" width="4.6" height="4.3" fill="#b15928"/>
<text x="214.5" y="151.3" font-size="6.4" stroke="#231f20">Inframe_Del</text>
<rect x="260" y="146.6" width="4.6" height="4.3" fill="#e31a1c"/>
<text x="267" y="151.3" font-size="6.4" stroke="#231f20">Nonsense_Mutation</text>
<rect x="334.5" y="146.6" width="4.6" height="4.3" fill="#6a3d9a"/>
<text x="341.8" y="151.3" font-size="6.4" stroke="#231f20">Frame_Shift_Ins</text>
<rect x="398" y="146.6" width="4.6" height="4.3" fill="#fb9a99"/>
<text x="406.2" y="151.3" font-size="6.4" stroke="#231f20">Silent</text>
<rect x="434.5" y="146.6" width="4.6" height="4.3" fill="#ff7f00"/>
<text x="442" y="151.3" font-size="6.4" stroke="#231f20">Splice_Site</text>
<text x="79.6" y="177.1" font-size="12.5" fill="#000" stroke="#000" font-weight="bold">C</text>
<text x="163.05" y="179.4" font-size="7.2" text-anchor="middle" stroke="#231f20">TCGA</text>
<rect x="114.8" y="182.4" width="96.5" height="77.4" fill="none" stroke="#3a3a3a" stroke-width="0.8"/>
<line x1="112.6" y1="259.8" x2="114.8" y2="259.8" stroke="#3a3a3a" stroke-width="0.8"/>
<text x="112.4" y="262.4" font-size="7.2" text-anchor="end" stroke="#231f20">0</text>
<line x1="112.6" y1="242.12" x2="114.8" y2="242.12" stroke="#3a3a3a" stroke-width="0.8"/>
<text x="112.4" y="244.72" font-size="7.2" text-anchor="end" stroke="#231f20">25</text>
<line x1="112.6" y1="224.45" x2="114.8" y2="224.45" stroke="#3a3a3a" stroke-width="0.8"/>
<text x="112.4" y="227.05" font-size="7.2" text-anchor="end" stroke="#231f20">50</text>
<line x1="112.6" y1="206.78" x2="114.8" y2="206.78" stroke="#3a3a3a" stroke-width="0.8"/>
<text x="112.4" y="209.38" font-size="7.2" text-anchor="end" stroke="#231f20">75</text>
<line x1="112.6" y1="189.1" x2="114.8" y2="189.1" stroke="#3a3a3a" stroke-width="0.8"/>
<text x="112.4" y="191.7" font-size="7.2" text-anchor="end" stroke="#231f20">100</text>
<line x1="114.8" y1="259.8" x2="114.8" y2="262" stroke="#3a3a3a" stroke-width="0.8"/>
<text x="114.8" y="269.2" font-size="7.2" text-anchor="middle" stroke="#231f20">0</text>
<line x1="134.14" y1="259.8" x2="134.14" y2="262" stroke="#3a3a3a" stroke-width="0.8"/>
<text x="134.14" y="269.2" font-size="7.2" text-anchor="middle" stroke="#231f20">50</text>
<line x1="153.48" y1="259.8" x2="153.48" y2="262" stroke="#3a3a3a" stroke-width="0.8"/>
<text x="153.48" y="269.2" font-size="7.2" text-anchor="middle" stroke="#231f20">100</text>
<line x1="172.82" y1="259.8" x2="172.82" y2="262" stroke="#3a3a3a" stroke-width="0.8"/>
<text x="172.82" y="269.2" font-size="7.2" text-anchor="middle" stroke="#231f20">150</text>
<line x1="192.16" y1="259.8" x2="192.16" y2="262" stroke="#3a3a3a" stroke-width="0.8"/>
<text x="192.16" y="269.2" font-size="7.2" text-anchor="middle" stroke="#231f20">200</text>
<line x1="211.5" y1="259.8" x2="211.5" y2="262" stroke="#3a3a3a" stroke-width="0.8"/>
<text x="211.5" y="269.2" font-size="7.2" text-anchor="middle" stroke="#231f20">250</text>
<text x="163.05" y="278.9" font-size="7.3" text-anchor="middle" stroke="#231f20">DFS (months)</text>
<text x="97.3" y="222.1" font-size="7.4" text-anchor="middle" stroke="#231f20" transform="rotate(-90 97.3 222.1)">%Disease-free survival</text>
<polyline points="115,189.1 115.6,189.1 115.6,189.3 116.13,189.3 116.13,190.57 116.67,190.57 116.67,191.83 117.2,191.83 117.2,193.1 117.65,193.1 117.65,194.3 118.1,194.3 118.1,195.5 118.55,195.5 118.55,196.7 119,196.7 119,197.9 119.28,197.9 119.28,199.1 119.55,199.1 119.55,200.3 119.82,200.3 119.82,201.5 120.1,201.5 120.1,202.7 120.4,202.7 120.4,203.88 120.7,203.88 120.7,205.05 121,205.05 121,206.22 121.3,206.22 121.3,207.4 121.6,207.4 121.6,208.6 121.9,208.6 121.9,209.8 122.2,209.8 122.2,211 122.5,211 122.5,212.2 122.95,212.2 122.95,213.4 123.4,213.4 123.4,214.6 123.85,214.6 123.85,215.8 124.3,215.8 124.3,217 124.9,217 124.9,218.18 125.5,218.18 125.5,219.35 126.1,219.35 126.1,220.52 126.7,220.52 126.7,221.7 127.45,221.7 127.45,222.9 128.2,222.9 128.2,224.1 128.95,224.1 128.95,225.3 129.7,225.3 129.7,226.5 131.07,226.5 131.07,227.67 132.43,227.67 132.43,228.83 133.8,228.83 133.8,230 135.2,230 135.2,230.8 136.6,230.8 136.6,231.6 138,231.6 138,232.4 139.2,232.4 139.2,232.7 140.4,232.7 140.4,233 141.6,233 141.6,233.3 142.8,233.3 142.8,233.6 144.3,233.6 144.3,233.95 145.8,233.95 145.8,234.3 147.3,234.3 147.3,235.25 148.8,235.25 148.8,236.2 150.4,236.2 150.4,237.2 159.6,237.2 159.6,240 176.5,240 176.5,246.9 208,246.9" fill="none" stroke="#38b6e6" stroke-width="1.5" stroke-linejoin="miter"/>
<line x1="117" y1="190.53" x2="117" y2="193.13" stroke="#38b6e6" stroke-width="0.55"/>
<line x1="118.6" y1="195.4" x2="118.6" y2="198" stroke="#38b6e6" stroke-width="0.55"/>
<line x1="120.2" y1="201.4" x2="120.2" y2="204" stroke="#38b6e6" stroke-width="0.55"/>
<line x1="121.8" y1="207.3" x2="121.8" y2="209.9" stroke="#38b6e6" stroke-width="0.55"/>
<line x1="123.4" y1="212.1" x2="123.4" y2="214.7" stroke="#38b6e6" stroke-width="0.55"/>
<line x1="125" y1="216.88" x2="125" y2="219.48" stroke="#38b6e6" stroke-width="0.55"/>
<line x1="126.6" y1="219.22" x2="126.6" y2="221.82" stroke="#38b6e6" stroke-width="0.55"/>
<line x1="128.2" y1="221.6" x2="128.2" y2="224.2" stroke="#38b6e6" stroke-width="0.55"/>
<line x1="129.8" y1="225.2" x2="129.8" y2="227.8" stroke="#38b6e6" stroke-width="0.55"/>
<line x1="131.4" y1="226.37" x2="131.4" y2="228.97" stroke="#38b6e6" stroke-width="0.55"/>
<line x1="133" y1="227.53" x2="133" y2="230.13" stroke="#38b6e6" stroke-width="0.55"/>
<line x1="134.6" y1="228.7" x2="134.6" y2="231.3" stroke="#38b6e6" stroke-width="0.55"/>
<line x1="136.2" y1="229.5" x2="136.2" y2="232.1" stroke="#38b6e6" stroke-width="0.55"/>
<line x1="137.8" y1="230.3" x2="137.8" y2="232.9" stroke="#38b6e6" stroke-width="0.55"/>
<line x1="139.4" y1="231.4" x2="139.4" y2="234" stroke="#38b6e6" stroke-width="0.55"/>
<line x1="141" y1="231.7" x2="141" y2="234.3" stroke="#38b6e6" stroke-width="0.55"/>
<line x1="142.6" y1="232" x2="142.6" y2="234.6" stroke="#38b6e6" stroke-width="0.55"/>
<line x1="144.2" y1="232.3" x2="144.2" y2="234.9" stroke="#38b6e6" stroke-width="0.55"/>
<line x1="145.8" y1="232.65" x2="145.8" y2="235.25" stroke="#38b6e6" stroke-width="0.55"/>
<line x1="147.4" y1="233.95" x2="147.4" y2="236.55" stroke="#38b6e6" stroke-width="0.55"/>
<line x1="149" y1="234.9" x2="149" y2="237.5" stroke="#38b6e6" stroke-width="0.55"/>
<line x1="152.5" y1="235.9" x2="152.5" y2="238.5" stroke="#38b6e6" stroke-width="0.55"/>
<line x1="156" y1="235.9" x2="156" y2="238.5" stroke="#38b6e6" stroke-width="0.55"/>
<line x1="159.5" y1="235.9" x2="159.5" y2="238.5" stroke="#38b6e6" stroke-width="0.55"/>
<line x1="163" y1="238.7" x2="163" y2="241.3" stroke="#38b6e6" stroke-width="0.55"/>
<line x1="166.5" y1="238.7" x2="166.5" y2="241.3" stroke="#38b6e6" stroke-width="0.55"/>
<line x1="170" y1="238.7" x2="170" y2="241.3" stroke="#38b6e6" stroke-width="0.55"/>
<line x1="173.5" y1="238.7" x2="173.5" y2="241.3" stroke="#38b6e6" stroke-width="0.55"/>
<line x1="180.5" y1="245.6" x2="180.5" y2="248.2" stroke="#38b6e6" stroke-width="0.55"/>
<line x1="187.5" y1="245.6" x2="187.5" y2="248.2" stroke="#38b6e6" stroke-width="0.55"/>
<line x1="194.5" y1="245.6" x2="194.5" y2="248.2" stroke="#38b6e6" stroke-width="0.55"/>
<line x1="201.5" y1="245.6" x2="201.5" y2="248.2" stroke="#38b6e6" stroke-width="0.55"/>
<polyline points="115,189.1 115.6,189.1 115.6,189.3 116,189.3 116,190.55 116.4,190.55 116.4,191.8 116.8,191.8 116.8,193.05 117.2,193.05 117.2,194.3 117.44,194.3 117.44,195.5 117.68,195.5 117.68,196.7 117.92,196.7 117.92,197.9 118.16,197.9 118.16,199.1 118.4,199.1 118.4,200.3 118.62,200.3 118.62,201.48 118.84,201.48 118.84,202.66 119.06,202.66 119.06,203.84 119.28,203.84 119.28,205.02 119.5,205.02 119.5,206.2 119.74,206.2 119.74,207.4 119.98,207.4 119.98,208.6 120.22,208.6 120.22,209.8 120.46,209.8 120.46,211 120.7,211 120.7,212.2 121,212.2 121,213.4 121.3,213.4 121.3,214.6 121.6,214.6 121.6,215.8 121.9,215.8 121.9,217 122.5,217 122.5,218.17 123.1,218.17 123.1,219.33 123.7,219.33 123.7,220.5 124.5,220.5 124.5,221.7 125.3,221.7 125.3,222.9 126.1,222.9 126.1,224.1 127.3,224.1 127.3,225.6 128.5,225.6 128.5,227.1 129.67,227.1 129.67,228.07 130.83,228.07 130.83,229.03 132,229.03 132,230 133.2,230 133.2,230.8 134.4,230.8 134.4,231.6 135.6,231.6 135.6,232.4 136.45,232.4 136.45,233.9 137.3,233.9 137.3,235.4 146.5,235.4 146.5,240 151.2,240 151.2,243 153.5,243 153.5,247 154.2,247 154.2,252.3 201.9,252.3" fill="none" stroke="#e0323c" stroke-width="1.2" stroke-linejoin="miter"/>
<line x1="117" y1="191.75" x2="117" y2="194.35" stroke="#e0323c" stroke-width="0.55"/>
<line x1="118.6" y1="199" x2="118.6" y2="201.6" stroke="#e0323c" stroke-width="0.55"/>
<line x1="120.2" y1="207.3" x2="120.2" y2="209.9" stroke="#e0323c" stroke-width="0.55"/>
<line x1="121.8" y1="214.5" x2="121.8" y2="217.1" stroke="#e0323c" stroke-width="0.55"/>
<line x1="123.4" y1="218.03" x2="123.4" y2="220.63" stroke="#e0323c" stroke-width="0.55"/>
<line x1="125" y1="220.4" x2="125" y2="223" stroke="#e0323c" stroke-width="0.55"/>
<line x1="126.6" y1="222.8" x2="126.6" y2="225.4" stroke="#e0323c" stroke-width="0.55"/>
<line x1="128.2" y1="224.3" x2="128.2" y2="226.9" stroke="#e0323c" stroke-width="0.55"/>
<line x1="129.8" y1="226.77" x2="129.8" y2="229.37" stroke="#e0323c" stroke-width="0.55"/>
<line x1="131.4" y1="227.73" x2="131.4" y2="230.33" stroke="#e0323c" stroke-width="0.55"/>
<line x1="133" y1="228.7" x2="133" y2="231.3" stroke="#e0323c" stroke-width="0.55"/>
<line x1="134.6" y1="230.3" x2="134.6" y2="232.9" stroke="#e0323c" stroke-width="0.55"/>
<line x1="136.2" y1="231.1" x2="136.2" y2="233.7" stroke="#e0323c" stroke-width="0.55"/>
<line x1="137.8" y1="234.1" x2="137.8" y2="236.7" stroke="#e0323c" stroke-width="0.55"/>
<line x1="139.4" y1="234.1" x2="139.4" y2="236.7" stroke="#e0323c" stroke-width="0.55"/>
<line x1="141" y1="234.1" x2="141" y2="236.7" stroke="#e0323c" stroke-width="0.55"/>
<line x1="142.6" y1="234.1" x2="142.6" y2="236.7" stroke="#e0323c" stroke-width="0.55"/>
<line x1="144.2" y1="234.1" x2="144.2" y2="236.7" stroke="#e0323c" stroke-width="0.55"/>
<line x1="145.8" y1="234.1" x2="145.8" y2="236.7" stroke="#e0323c" stroke-width="0.55"/>
<line x1="147.4" y1="238.7" x2="147.4" y2="241.3" stroke="#e0323c" stroke-width="0.55"/>
<line x1="150.9" y1="238.7" x2="150.9" y2="241.3" stroke="#e0323c" stroke-width="0.55"/>
<line x1="154.4" y1="251" x2="154.4" y2="253.6" stroke="#e0323c" stroke-width="0.55"/>
<line x1="157.9" y1="251" x2="157.9" y2="253.6" stroke="#e0323c" stroke-width="0.55"/>
<line x1="161.4" y1="251" x2="161.4" y2="253.6" stroke="#e0323c" stroke-width="0.55"/>
<line x1="164.9" y1="251" x2="164.9" y2="253.6" stroke="#e0323c" stroke-width="0.55"/>
<line x1="168.4" y1="251" x2="168.4" y2="253.6" stroke="#e0323c" stroke-width="0.55"/>
<line x1="175.4" y1="251" x2="175.4" y2="253.6" stroke="#e0323c" stroke-width="0.55"/>
<line x1="182.4" y1="251" x2="182.4" y2="253.6" stroke="#e0323c" stroke-width="0.55"/>
<line x1="189.4" y1="251" x2="189.4" y2="253.6" stroke="#e0323c" stroke-width="0.55"/>
<line x1="196.4" y1="251" x2="196.4" y2="253.6" stroke="#e0323c" stroke-width="0.55"/>
<line x1="134" y1="190.4" x2="142.7" y2="190.4" stroke="#2d6f9e" stroke-width="0.9"/>
<line x1="138.35" y1="189.2" x2="138.35" y2="191.6" stroke="#2d6f9e" stroke-width="0.7"/>
<text x="144.5" y="192.7" font-size="6.6" fill="#38b6e6" stroke="#38b6e6">Wild-type</text>
<line x1="134" y1="198.1" x2="142.7" y2="198.1" stroke="#8e2f3c" stroke-width="0.9"/>
<line x1="138.35" y1="196.9" x2="138.35" y2="199.3" stroke="#8e2f3c" stroke-width="0.7"/>
<text x="144.5" y="200.4" font-size="6.6" fill="#e0323c" stroke="#e0323c">KMT2A/B/C/D Mutant</text>
<text x="209.8" y="239.6" font-size="6.6" text-anchor="end" stroke="#231f20"><tspan font-style="italic">P</tspan> = 0.036</text>
<text x="113.6" y="288.3" font-size="7.2" text-anchor="middle" stroke="#231f20">303</text>
<text x="132.94" y="288.3" font-size="7.2" text-anchor="middle" stroke="#231f20">35</text>
<text x="152.28" y="288.3" font-size="7.2" text-anchor="middle" stroke="#231f20">8</text>
<text x="171.62" y="288.3" font-size="7.2" text-anchor="middle" stroke="#231f20">4</text>
<text x="190.96" y="288.3" font-size="7.2" text-anchor="middle" stroke="#231f20">2</text>
<text x="210.3" y="288.3" font-size="7.2" text-anchor="middle" stroke="#231f20">0</text>
<text x="113.6" y="296.3" font-size="7.2" text-anchor="middle" stroke="#231f20">119</text>
<text x="132.94" y="296.3" font-size="7.2" text-anchor="middle" stroke="#231f20">11</text>
<text x="152.28" y="296.3" font-size="7.2" text-anchor="middle" stroke="#231f20">2</text>
<text x="171.62" y="296.3" font-size="7.2" text-anchor="middle" stroke="#231f20">1</text>
<text x="190.96" y="296.3" font-size="7.2" text-anchor="middle" stroke="#231f20">1</text>
<text x="210.3" y="296.3" font-size="7.2" text-anchor="middle" stroke="#231f20">0</text>
<text x="20.9" y="291.6" font-size="7.3" stroke="#231f20">Number at risk</text>
<line x1="71.7" y1="282.6" x2="71.7" y2="296.6" stroke="#222" stroke-width="0.8"/>
<text x="73.1" y="287.7" font-size="7.3" fill="#38bfd6" stroke="#38bfd6">Wild-type</text>
<text x="73.1" y="296" font-size="7.3" fill="#e0323c" stroke="#e0323c">Mutant</text>
<text x="234.2" y="177.1" font-size="12.5" fill="#000" stroke="#000" font-weight="bold">D</text>
<text x="307.8" y="179.4" font-size="7.2" text-anchor="middle" stroke="#231f20">TCGA</text>
<rect x="259.6" y="183" width="96.4" height="77.1" fill="none" stroke="#3a3a3a" stroke-width="0.8"/>
<line x1="257.4" y1="260.1" x2="259.6" y2="260.1" stroke="#3a3a3a" stroke-width="0.8"/>
<text x="257.2" y="262.7" font-size="7.2" text-anchor="end" stroke="#231f20">0</text>
<line x1="257.4" y1="242.68" x2="259.6" y2="242.68" stroke="#3a3a3a" stroke-width="0.8"/>
<text x="257.2" y="245.28" font-size="7.2" text-anchor="end" stroke="#231f20">25</text>
<line x1="257.4" y1="225.25" x2="259.6" y2="225.25" stroke="#3a3a3a" stroke-width="0.8"/>
<text x="257.2" y="227.85" font-size="7.2" text-anchor="end" stroke="#231f20">50</text>
<line x1="257.4" y1="207.83" x2="259.6" y2="207.83" stroke="#3a3a3a" stroke-width="0.8"/>
<text x="257.2" y="210.43" font-size="7.2" text-anchor="end" stroke="#231f20">75</text>
<line x1="257.4" y1="190.4" x2="259.6" y2="190.4" stroke="#3a3a3a" stroke-width="0.8"/>
<text x="257.2" y="193" font-size="7.2" text-anchor="end" stroke="#231f20">100</text>
<line x1="259.3" y1="260.1" x2="259.3" y2="262.3" stroke="#3a3a3a" stroke-width="0.8"/>
<text x="259.3" y="269.2" font-size="7.2" text-anchor="middle" stroke="#231f20">0</text>
<line x1="278.78" y1="260.1" x2="278.78" y2="262.3" stroke="#3a3a3a" stroke-width="0.8"/>
<text x="278.78" y="269.2" font-size="7.2" text-anchor="middle" stroke="#231f20">50</text>
<line x1="298.26" y1="260.1" x2="298.26" y2="262.3" stroke="#3a3a3a" stroke-width="0.8"/>
<text x="298.26" y="269.2" font-size="7.2" text-anchor="middle" stroke="#231f20">100</text>
<line x1="317.74" y1="260.1" x2="317.74" y2="262.3" stroke="#3a3a3a" stroke-width="0.8"/>
<text x="317.74" y="269.2" font-size="7.2" text-anchor="middle" stroke="#231f20">150</text>
<line x1="337.22" y1="260.1" x2="337.22" y2="262.3" stroke="#3a3a3a" stroke-width="0.8"/>
<text x="337.22" y="269.2" font-size="7.2" text-anchor="middle" stroke="#231f20">200</text>
<line x1="356.7" y1="260.1" x2="356.7" y2="262.3" stroke="#3a3a3a" stroke-width="0.8"/>
<text x="356.7" y="269.2" font-size="7.2" text-anchor="middle" stroke="#231f20">250</text>
<text x="307.8" y="278.9" font-size="7.3" text-anchor="middle" stroke="#231f20">DFS (months)</text>
<text x="243.3" y="222.55" font-size="7.4" text-anchor="middle" stroke="#231f20" transform="rotate(-90 243.3 222.55)">%Disease-free survival</text>
<polyline points="259.6,190.4 260.1,190.4 260.83,190.4 260.83,191.8 261.57,191.8 261.57,193.2 262.3,193.2 262.3,194.6 262.72,194.6 262.72,195.74 263.14,195.74 263.14,196.88 263.56,196.88 263.56,198.02 263.98,198.02 263.98,199.16 264.4,199.16 264.4,200.3 264.7,200.3 264.7,201.44 265,201.44 265,202.58 265.3,202.58 265.3,203.72 265.6,203.72 265.6,204.86 265.9,204.86 265.9,206 266.18,206 266.18,207.14 266.46,207.14 266.46,208.28 266.74,208.28 266.74,209.42 267.02,209.42 267.02,210.56 267.3,210.56 267.3,211.7 267.72,211.7 267.72,212.84 268.14,212.84 268.14,213.98 268.56,213.98 268.56,215.12 268.98,215.12 268.98,216.26 269.4,216.26 269.4,217.4 270.12,217.4 270.12,218.65 270.85,218.65 270.85,219.9 271.57,219.9 271.57,221.15 272.3,221.15 272.3,222.4 273.2,222.4 273.2,223.47 274.1,223.47 274.1,224.55 275,224.55 275,225.62 275.9,225.62 275.9,226.7 277.07,226.7 277.07,227.9 278.23,227.9 278.23,229.1 279.4,229.1 279.4,230.3 280.47,230.3 280.47,230.83 281.55,230.83 281.55,231.35 282.62,231.35 282.62,231.88 283.7,231.88 283.7,232.4 284.77,232.4 284.77,232.78 285.85,232.78 285.85,233.15 286.93,233.15 286.93,233.53 288,233.53 288,233.9 289.14,233.9 289.14,234.18 290.28,234.18 290.28,234.46 291.42,234.46 291.42,234.74 292.56,234.74 292.56,235.02 293.7,235.02 293.7,235.3 294.77,235.3 294.77,235.7 295.85,235.7 295.85,236.1 296.93,236.1 296.93,236.5 298,236.5 298,236.9 299.28,236.9 299.28,237.52 300.56,237.52 300.56,238.14 301.84,238.14 301.84,238.76 303.12,238.76 303.12,239.38 304.4,239.38 304.4,240 305.05,240 305.05,241 305.7,241 305.7,242 321.4,242 321.4,246.2 352.7,246.2" fill="none" stroke="#38b6e6" stroke-width="1.5" stroke-linejoin="miter"/>
<line x1="261.6" y1="191.9" x2="261.6" y2="194.5" stroke="#38b6e6" stroke-width="0.55"/>
<line x1="263.2" y1="195.58" x2="263.2" y2="198.18" stroke="#38b6e6" stroke-width="0.55"/>
<line x1="264.8" y1="200.14" x2="264.8" y2="202.74" stroke="#38b6e6" stroke-width="0.55"/>
<line x1="266.4" y1="205.84" x2="266.4" y2="208.44" stroke="#38b6e6" stroke-width="0.55"/>
<line x1="268" y1="211.54" x2="268" y2="214.14" stroke="#38b6e6" stroke-width="0.55"/>
<line x1="269.6" y1="216.1" x2="269.6" y2="218.7" stroke="#38b6e6" stroke-width="0.55"/>
<line x1="271.2" y1="218.6" x2="271.2" y2="221.2" stroke="#38b6e6" stroke-width="0.55"/>
<line x1="272.8" y1="221.1" x2="272.8" y2="223.7" stroke="#38b6e6" stroke-width="0.55"/>
<line x1="274.4" y1="223.25" x2="274.4" y2="225.85" stroke="#38b6e6" stroke-width="0.55"/>
<line x1="276" y1="225.4" x2="276" y2="228" stroke="#38b6e6" stroke-width="0.55"/>
<line x1="277.6" y1="226.6" x2="277.6" y2="229.2" stroke="#38b6e6" stroke-width="0.55"/>
<line x1="279.2" y1="227.8" x2="279.2" y2="230.4" stroke="#38b6e6" stroke-width="0.55"/>
<line x1="280.8" y1="229.53" x2="280.8" y2="232.13" stroke="#38b6e6" stroke-width="0.55"/>
<line x1="282.4" y1="230.05" x2="282.4" y2="232.65" stroke="#38b6e6" stroke-width="0.55"/>
<line x1="284" y1="231.1" x2="284" y2="233.7" stroke="#38b6e6" stroke-width="0.55"/>
<line x1="285.6" y1="231.47" x2="285.6" y2="234.08" stroke="#38b6e6" stroke-width="0.55"/>
<line x1="287.2" y1="232.22" x2="287.2" y2="234.83" stroke="#38b6e6" stroke-width="0.55"/>
<line x1="288.8" y1="232.6" x2="288.8" y2="235.2" stroke="#38b6e6" stroke-width="0.55"/>
<line x1="290.4" y1="233.16" x2="290.4" y2="235.76" stroke="#38b6e6" stroke-width="0.55"/>
<line x1="292" y1="233.44" x2="292" y2="236.04" stroke="#38b6e6" stroke-width="0.55"/>
<line x1="293.6" y1="233.72" x2="293.6" y2="236.32" stroke="#38b6e6" stroke-width="0.55"/>
<line x1="297.1" y1="235.2" x2="297.1" y2="237.8" stroke="#38b6e6" stroke-width="0.55"/>
<line x1="300.6" y1="236.84" x2="300.6" y2="239.44" stroke="#38b6e6" stroke-width="0.55"/>
<line x1="304.1" y1="238.08" x2="304.1" y2="240.68" stroke="#38b6e6" stroke-width="0.55"/>
<line x1="307.6" y1="240.7" x2="307.6" y2="243.3" stroke="#38b6e6" stroke-width="0.55"/>
<line x1="311.1" y1="240.7" x2="311.1" y2="243.3" stroke="#38b6e6" stroke-width="0.55"/>
<line x1="314.6" y1="240.7" x2="314.6" y2="243.3" stroke="#38b6e6" stroke-width="0.55"/>
<line x1="318.1" y1="240.7" x2="318.1" y2="243.3" stroke="#38b6e6" stroke-width="0.55"/>
<line x1="325.1" y1="244.9" x2="325.1" y2="247.5" stroke="#38b6e6" stroke-width="0.55"/>
<line x1="332.1" y1="244.9" x2="332.1" y2="247.5" stroke="#38b6e6" stroke-width="0.55"/>
<line x1="339.1" y1="244.9" x2="339.1" y2="247.5" stroke="#38b6e6" stroke-width="0.55"/>
<line x1="346.1" y1="244.9" x2="346.1" y2="247.5" stroke="#38b6e6" stroke-width="0.55"/>
<polyline points="259.6,190.4 260.1,190.4 260.54,190.4 260.54,191.52 260.98,191.52 260.98,192.64 261.42,192.64 261.42,193.76 261.86,193.76 261.86,194.88 262.3,194.88 262.3,196 262.58,196 262.58,197.14 262.86,197.14 262.86,198.28 263.14,198.28 263.14,199.42 263.42,199.42 263.42,200.56 263.7,200.56 263.7,201.7 263.93,201.7 263.93,202.9 264.17,202.9 264.17,204.1 264.4,204.1 264.4,205.3 264.63,205.3 264.63,206.5 264.87,206.5 264.87,207.7 265.1,207.7 265.1,208.9 265.35,208.9 265.35,210.08 265.6,210.08 265.6,211.27 265.85,211.27 265.85,212.45 266.1,212.45 266.1,213.63 266.35,213.63 266.35,214.82 266.6,214.82 266.6,216 266.74,216 266.74,217.14 266.88,217.14 266.88,218.28 267.02,218.28 267.02,219.42 267.16,219.42 267.16,220.56 267.3,220.56 267.3,221.7 268,221.7 268,222.9 268.7,222.9 268.7,224.1 269.4,224.1 269.4,225.3 270.37,225.3 270.37,226.5 271.33,226.5 271.33,227.7 272.3,227.7 272.3,228.9 273.23,228.9 273.23,230.3 274.17,230.3 274.17,231.7 275.1,231.7 275.1,233.1 275.85,233.1 275.85,234.2 276.6,234.2 276.6,235.3 281.6,235.3 281.6,241.2 292.2,241.2 292.2,251.1 297.9,251.1 297.9,260.1" fill="none" stroke="#e0323c" stroke-width="1.2" stroke-linejoin="miter"/>
<line x1="261.6" y1="192.46" x2="261.6" y2="195.06" stroke="#e0323c" stroke-width="0.55"/>
<line x1="263.2" y1="198.12" x2="263.2" y2="200.72" stroke="#e0323c" stroke-width="0.55"/>
<line x1="264.8" y1="205.2" x2="264.8" y2="207.8" stroke="#e0323c" stroke-width="0.55"/>
<line x1="266.4" y1="213.52" x2="266.4" y2="216.12" stroke="#e0323c" stroke-width="0.55"/>
<line x1="268" y1="221.6" x2="268" y2="224.2" stroke="#e0323c" stroke-width="0.55"/>
<line x1="269.6" y1="224" x2="269.6" y2="226.6" stroke="#e0323c" stroke-width="0.55"/>
<line x1="271.2" y1="225.2" x2="271.2" y2="227.8" stroke="#e0323c" stroke-width="0.55"/>
<line x1="272.8" y1="227.6" x2="272.8" y2="230.2" stroke="#e0323c" stroke-width="0.55"/>
<line x1="274.4" y1="230.4" x2="274.4" y2="233" stroke="#e0323c" stroke-width="0.55"/>
<line x1="277.9" y1="234" x2="277.9" y2="236.6" stroke="#e0323c" stroke-width="0.55"/>
<line x1="281.4" y1="234" x2="281.4" y2="236.6" stroke="#e0323c" stroke-width="0.55"/>
<line x1="284.9" y1="239.9" x2="284.9" y2="242.5" stroke="#e0323c" stroke-width="0.55"/>
<line x1="291.9" y1="239.9" x2="291.9" y2="242.5" stroke="#e0323c" stroke-width="0.55"/>
<line x1="291" y1="190.2" x2="300" y2="190.2" stroke="#2d6f9e" stroke-width="0.9"/>
<line x1="295.5" y1="189" x2="295.5" y2="191.4" stroke="#2d6f9e" stroke-width="0.7"/>
<text x="301.8" y="192.5" font-size="6.6" fill="#38b6e6" stroke="#38b6e6">Wild-type</text>
<line x1="291" y1="198" x2="300" y2="198" stroke="#8e2f3c" stroke-width="0.9"/>
<line x1="295.5" y1="196.8" x2="295.5" y2="199.2" stroke="#8e2f3c" stroke-width="0.7"/>
<text x="301.8" y="200.3" font-size="6.6" fill="#e0323c" stroke="#e0323c">KMT2C/D Mutant</text>
<text x="352.8" y="239.6" font-size="6.6" text-anchor="end" stroke="#231f20"><tspan font-style="italic">P</tspan> = 0.011</text>
<text x="258.1" y="288.3" font-size="7.2" text-anchor="middle" stroke="#231f20">329</text>
<text x="277.58" y="288.3" font-size="7.2" text-anchor="middle" stroke="#231f20">39</text>
<text x="297.06" y="288.3" font-size="7.2" text-anchor="middle" stroke="#231f20">10</text>
<text x="316.54" y="288.3" font-size="7.2" text-anchor="middle" stroke="#231f20">5</text>
<text x="336.02" y="288.3" font-size="7.2" text-anchor="middle" stroke="#231f20">3</text>
<text x="355.5" y="288.3" font-size="7.2" text-anchor="middle" stroke="#231f20">0</text>
<text x="258.1" y="296.3" font-size="7.2" text-anchor="middle" stroke="#231f20">93</text>
<text x="277.58" y="296.3" font-size="7.2" text-anchor="middle" stroke="#231f20">7</text>
<text x="297.06" y="296.3" font-size="7.2" text-anchor="middle" stroke="#231f20">0</text>
<text x="316.54" y="296.3" font-size="7.2" text-anchor="middle" stroke="#231f20">0</text>
<text x="336.02" y="296.3" font-size="7.2" text-anchor="middle" stroke="#231f20">0</text>
<text x="355.5" y="296.3" font-size="7.2" text-anchor="middle" stroke="#231f20">0</text>
<text x="367.4" y="177.1" font-size="12.5" fill="#000" stroke="#000" font-weight="bold">G</text>
<text x="454.3" y="179.4" font-size="7.2" text-anchor="middle" stroke="#231f20">MSKCC</text>
<rect x="405.9" y="182.7" width="96.8" height="77.4" fill="none" stroke="#3a3a3a" stroke-width="0.8"/>
<line x1="403.7" y1="260.1" x2="405.9" y2="260.1" stroke="#3a3a3a" stroke-width="0.8"/>
<text x="403.5" y="262.7" font-size="7.2" text-anchor="end" stroke="#231f20">0</text>
<line x1="403.7" y1="242.73" x2="405.9" y2="242.73" stroke="#3a3a3a" stroke-width="0.8"/>
<text x="403.5" y="245.33" font-size="7.2" text-anchor="end" stroke="#231f20">25</text>
<line x1="403.7" y1="225.35" x2="405.9" y2="225.35" stroke="#3a3a3a" stroke-width="0.8"/>
<text x="403.5" y="227.95" font-size="7.2" text-anchor="end" stroke="#231f20">50</text>
<line x1="403.7" y1="207.97" x2="405.9" y2="207.97" stroke="#3a3a3a" stroke-width="0.8"/>
<text x="403.5" y="210.57" font-size="7.2" text-anchor="end" stroke="#231f20">75</text>
<line x1="403.7" y1="190.6" x2="405.9" y2="190.6" stroke="#3a3a3a" stroke-width="0.8"/>
<text x="403.5" y="193.2" font-size="7.2" text-anchor="end" stroke="#231f20">100</text>
<line x1="405.9" y1="260.1" x2="405.9" y2="262.3" stroke="#3a3a3a" stroke-width="0.8"/>
<text x="405.9" y="269.2" font-size="7.2" text-anchor="middle" stroke="#231f20">0</text>
<line x1="435.8" y1="260.1" x2="435.8" y2="262.3" stroke="#3a3a3a" stroke-width="0.8"/>
<text x="435.8" y="269.2" font-size="7.2" text-anchor="middle" stroke="#231f20">10</text>
<line x1="465.7" y1="260.1" x2="465.7" y2="262.3" stroke="#3a3a3a" stroke-width="0.8"/>
<text x="465.7" y="269.2" font-size="7.2" text-anchor="middle" stroke="#231f20">20</text>
<line x1="495.6" y1="260.1" x2="495.6" y2="262.3" stroke="#3a3a3a" stroke-width="0.8"/>
<text x="495.6" y="269.2" font-size="7.2" text-anchor="middle" stroke="#231f20">30</text>
<line x1="420.85" y1="260.1" x2="420.85" y2="261.5" stroke="#3a3a3a" stroke-width="0.7"/>
<line x1="450.75" y1="260.1" x2="450.75" y2="261.5" stroke="#3a3a3a" stroke-width="0.7"/>
<line x1="480.65" y1="260.1" x2="480.65" y2="261.5" stroke="#3a3a3a" stroke-width="0.7"/>
<text x="454.3" y="278.9" font-size="7.3" text-anchor="middle" stroke="#231f20">PFS (months)</text>
<text x="386.6" y="222.4" font-size="7.4" text-anchor="middle" stroke="#231f20" transform="rotate(-90 386.6 222.4)">%Progression-free survival</text>
<polyline points="405.9,191 409.8,191 409.81,191 409.81,192 409.83,192 409.83,193 409.84,193 409.84,194 409.86,194 409.86,195 409.87,195 409.87,196 409.89,196 409.89,197 409.9,197 409.9,198 409.91,198 409.91,199 409.93,199 409.93,200 409.94,200 409.94,201 409.96,201 409.96,202 409.97,202 409.97,203 409.99,203 409.99,204 410,204 410,205 410.13,205 410.13,205.97 410.25,205.97 410.25,206.95 410.38,206.95 410.38,207.92 410.51,207.92 410.51,208.89 410.64,208.89 410.64,209.86 410.76,209.86 410.76,210.84 410.89,210.84 410.89,211.81 411.02,211.81 411.02,212.78 411.15,212.78 411.15,213.75 411.27,213.75 411.27,214.73 411.4,214.73 411.4,215.7 411.77,215.7 411.77,216.77 412.15,216.77 412.15,217.85 412.52,217.85 412.52,218.93 412.9,218.93 412.9,220 413.32,220 413.32,221 413.74,221 413.74,222 414.16,222 414.16,223 414.58,223 414.58,224 415,224 415,225 415.48,225 415.48,225.95 415.97,225.95 415.97,226.9 416.45,226.9 416.45,227.85 416.93,227.85 416.93,228.8 417.42,228.8 417.42,229.75 417.9,229.75 417.9,230.7 418.46,230.7 418.46,231.7 419.02,231.7 419.02,232.7 419.58,232.7 419.58,233.7 420.14,233.7 420.14,234.7 420.7,234.7 420.7,235.7 421.6,235.7 421.6,236.77 422.5,236.77 422.5,237.85 423.4,237.85 423.4,238.93 424.3,238.93 424.3,240 425.38,240 425.38,240.9 426.45,240.9 426.45,241.8 427.53,241.8 427.53,242.7 428.6,242.7 428.6,243.6 429.6,243.6 429.6,244.16 430.6,244.16 430.6,244.72 431.6,244.72 431.6,245.28 432.6,245.28 432.6,245.84 433.6,245.84 433.6,246.4 434.55,246.4 434.55,246.77 435.5,246.77 435.5,247.13 436.45,247.13 436.45,247.5 437.4,247.5 437.4,247.87 438.35,247.87 438.35,248.23 439.3,248.23 439.3,248.6 440.25,248.6 440.25,248.83 441.2,248.83 441.2,249.07 442.15,249.07 442.15,249.3 443.1,249.3 443.1,249.53 444.05,249.53 444.05,249.77 445,249.77 445,250 446.03,250 446.03,250.22 447.07,250.22 447.07,250.43 448.1,250.43 448.1,250.65 449.13,250.65 449.13,250.87 450.17,250.87 450.17,251.08 451.2,251.08 451.2,251.3 452.18,251.3 452.18,251.47 453.17,251.47 453.17,251.63 454.15,251.63 454.15,251.8 455.13,251.8 455.13,251.97 456.12,251.97 456.12,252.13 457.1,252.13 457.1,252.3 458.08,252.3 458.08,252.47 459.07,252.47 459.07,252.63 460.05,252.63 460.05,252.8 461.03,252.8 461.03,252.97 462.02,252.97 462.02,253.13 463,253.13 463,253.3 464.02,253.3 464.02,253.44 465.04,253.44 465.04,253.57 466.05,253.57 466.05,253.71 467.07,253.71 467.07,253.85 468.09,253.85 468.09,253.98 469.11,253.98 469.11,254.12 470.13,254.12 470.13,254.25 471.15,254.25 471.15,254.39 472.16,254.39 472.16,254.53 473.18,254.53 473.18,254.66 474.2,254.66 474.2,254.8 475.23,254.8 475.23,254.88 476.25,254.88 476.25,254.96 477.28,254.96 477.28,255.05 478.31,255.05 478.31,255.13 479.34,255.13 479.34,255.21 480.36,255.21 480.36,255.29 481.39,255.29 481.39,255.37 482.42,255.37 482.42,255.45 483.45,255.45 483.45,255.54 484.47,255.54 484.47,255.62 485.5,255.62 485.5,255.7 486.54,255.7 486.54,255.72 487.58,255.72 487.58,255.73 488.62,255.73 488.62,255.75 489.67,255.75 489.67,255.77 490.71,255.77 490.71,255.78 491.75,255.78 491.75,255.8 492.79,255.8 492.79,255.82 493.83,255.82 493.83,255.83 494.88,255.83 494.88,255.85 495.92,255.85 495.92,255.87 496.96,255.87 496.96,255.88 498,255.88 498,255.9" fill="none" stroke="#3ccbbd" stroke-width="1.5" stroke-linejoin="miter"/>
<line x1="407.9" y1="189.7" x2="407.9" y2="192.3" stroke="#3ccbbd" stroke-width="0.55"/>
<line x1="409.5" y1="189.7" x2="409.5" y2="192.3" stroke="#3ccbbd" stroke-width="0.55"/>
<line x1="411.1" y1="211.48" x2="411.1" y2="214.08" stroke="#3ccbbd" stroke-width="0.55"/>
<line x1="412.7" y1="217.62" x2="412.7" y2="220.23" stroke="#3ccbbd" stroke-width="0.55"/>
<line x1="414.3" y1="221.7" x2="414.3" y2="224.3" stroke="#3ccbbd" stroke-width="0.55"/>
<line x1="415.9" y1="224.65" x2="415.9" y2="227.25" stroke="#3ccbbd" stroke-width="0.55"/>
<line x1="417.5" y1="228.45" x2="417.5" y2="231.05" stroke="#3ccbbd" stroke-width="0.55"/>
<line x1="419.1" y1="231.4" x2="419.1" y2="234" stroke="#3ccbbd" stroke-width="0.55"/>
<line x1="420.7" y1="234.4" x2="420.7" y2="237" stroke="#3ccbbd" stroke-width="0.55"/>
<line x1="422.3" y1="235.47" x2="422.3" y2="238.07" stroke="#3ccbbd" stroke-width="0.55"/>
<line x1="423.9" y1="237.62" x2="423.9" y2="240.23" stroke="#3ccbbd" stroke-width="0.55"/>
<line x1="425.5" y1="239.6" x2="425.5" y2="242.2" stroke="#3ccbbd" stroke-width="0.55"/>
<line x1="427.1" y1="240.5" x2="427.1" y2="243.1" stroke="#3ccbbd" stroke-width="0.55"/>
<line x1="428.7" y1="242.3" x2="428.7" y2="244.9" stroke="#3ccbbd" stroke-width="0.55"/>
<line x1="430.3" y1="242.86" x2="430.3" y2="245.46" stroke="#3ccbbd" stroke-width="0.55"/>
<line x1="431.9" y1="243.98" x2="431.9" y2="246.58" stroke="#3ccbbd" stroke-width="0.55"/>
<line x1="433.5" y1="244.54" x2="433.5" y2="247.14" stroke="#3ccbbd" stroke-width="0.55"/>
<line x1="435.1" y1="245.47" x2="435.1" y2="248.07" stroke="#3ccbbd" stroke-width="0.55"/>
<line x1="436.7" y1="246.2" x2="436.7" y2="248.8" stroke="#3ccbbd" stroke-width="0.55"/>
<line x1="438.3" y1="246.57" x2="438.3" y2="249.17" stroke="#3ccbbd" stroke-width="0.55"/>
<line x1="439.9" y1="247.3" x2="439.9" y2="249.9" stroke="#3ccbbd" stroke-width="0.55"/>
<line x1="443.4" y1="248.23" x2="443.4" y2="250.83" stroke="#3ccbbd" stroke-width="0.55"/>
<line x1="446.9" y1="248.92" x2="446.9" y2="251.52" stroke="#3ccbbd" stroke-width="0.55"/>
<line x1="450.4" y1="249.78" x2="450.4" y2="252.38" stroke="#3ccbbd" stroke-width="0.55"/>
<line x1="453.9" y1="250.33" x2="453.9" y2="252.93" stroke="#3ccbbd" stroke-width="0.55"/>
<line x1="457.4" y1="251" x2="457.4" y2="253.6" stroke="#3ccbbd" stroke-width="0.55"/>
<line x1="460.9" y1="251.5" x2="460.9" y2="254.1" stroke="#3ccbbd" stroke-width="0.55"/>
<line x1="464.4" y1="252.14" x2="464.4" y2="254.74" stroke="#3ccbbd" stroke-width="0.55"/>
<line x1="471.4" y1="253.09" x2="471.4" y2="255.69" stroke="#3ccbbd" stroke-width="0.55"/>
<line x1="478.4" y1="253.83" x2="478.4" y2="256.43" stroke="#3ccbbd" stroke-width="0.55"/>
<line x1="485.4" y1="254.32" x2="485.4" y2="256.92" stroke="#3ccbbd" stroke-width="0.55"/>
<line x1="492.4" y1="254.5" x2="492.4" y2="257.1" stroke="#3ccbbd" stroke-width="0.55"/>
<polyline points="405.9,191 409.8,191 409.95,191 409.95,192.25 410.1,192.25 410.1,193.5 410.25,193.5 410.25,194.75 410.4,194.75 410.4,196 410.55,196 410.55,197.25 410.7,197.25 410.7,198.5 410.85,198.5 410.85,199.75 411,199.75 411,201 411.08,201 411.08,202.12 411.17,202.12 411.17,203.23 411.25,203.23 411.25,204.35 411.33,204.35 411.33,205.47 411.42,205.47 411.42,206.58 411.5,206.58 411.5,207.7 411.66,207.7 411.66,208.86 411.82,208.86 411.82,210.02 411.98,210.02 411.98,211.18 412.14,211.18 412.14,212.34 412.3,212.34 412.3,213.5 412.6,213.5 412.6,214.6 412.9,214.6 412.9,215.7 413.2,215.7 413.2,216.8 416.5,216.8 416.9,216.8 416.9,218.05 417.3,218.05 417.3,219.3 418.15,219.3 418.15,220.55 419,220.55 419,221.8 422.3,221.8 422.3,224.7 432.5,224.7 432.5,228.6 436.7,228.6 436.7,232.7 444.8,232.7 444.8,240.2 449.4,240.2 449.4,244 473,244 473,252 487.8,252" fill="none" stroke="#d9434b" stroke-width="1.2" stroke-linejoin="miter"/>
<line x1="407.9" y1="189.7" x2="407.9" y2="192.3" stroke="#d9434b" stroke-width="0.55"/>
<line x1="409.5" y1="189.7" x2="409.5" y2="192.3" stroke="#d9434b" stroke-width="0.55"/>
<line x1="411.1" y1="200.82" x2="411.1" y2="203.42" stroke="#d9434b" stroke-width="0.55"/>
<line x1="412.7" y1="213.3" x2="412.7" y2="215.9" stroke="#d9434b" stroke-width="0.55"/>
<line x1="414.3" y1="215.5" x2="414.3" y2="218.1" stroke="#d9434b" stroke-width="0.55"/>
<line x1="415.9" y1="215.5" x2="415.9" y2="218.1" stroke="#d9434b" stroke-width="0.55"/>
<line x1="417.5" y1="218" x2="417.5" y2="220.6" stroke="#d9434b" stroke-width="0.55"/>
<line x1="419.1" y1="220.5" x2="419.1" y2="223.1" stroke="#d9434b" stroke-width="0.55"/>
<line x1="420.7" y1="220.5" x2="420.7" y2="223.1" stroke="#d9434b" stroke-width="0.55"/>
<line x1="422.3" y1="223.4" x2="422.3" y2="226" stroke="#d9434b" stroke-width="0.55"/>
<line x1="423.9" y1="223.4" x2="423.9" y2="226" stroke="#d9434b" stroke-width="0.55"/>
<line x1="425.5" y1="223.4" x2="425.5" y2="226" stroke="#d9434b" stroke-width="0.55"/>
<line x1="427.1" y1="223.4" x2="427.1" y2="226" stroke="#d9434b" stroke-width="0.55"/>
<line x1="428.7" y1="223.4" x2="428.7" y2="226" stroke="#d9434b" stroke-width="0.55"/>
<line x1="430.3" y1="223.4" x2="430.3" y2="226" stroke="#d9434b" stroke-width="0.55"/>
<line x1="431.9" y1="223.4" x2="431.9" y2="226" stroke="#d9434b" stroke-width="0.55"/>
<line x1="433.5" y1="227.3" x2="433.5" y2="229.9" stroke="#d9434b" stroke-width="0.55"/>
<line x1="435.1" y1="227.3" x2="435.1" y2="229.9" stroke="#d9434b" stroke-width="0.55"/>
<line x1="436.7" y1="231.4" x2="436.7" y2="234" stroke="#d9434b" stroke-width="0.55"/>
<line x1="440.2" y1="231.4" x2="440.2" y2="234" stroke="#d9434b" stroke-width="0.55"/>
<line x1="443.7" y1="231.4" x2="443.7" y2="234" stroke="#d9434b" stroke-width="0.55"/>
<line x1="447.2" y1="238.9" x2="447.2" y2="241.5" stroke="#d9434b" stroke-width="0.55"/>
<line x1="450.7" y1="242.7" x2="450.7" y2="245.3" stroke="#d9434b" stroke-width="0.55"/>
<line x1="454.2" y1="242.7" x2="454.2" y2="245.3" stroke="#d9434b" stroke-width="0.55"/>
<line x1="457.7" y1="242.7" x2="457.7" y2="245.3" stroke="#d9434b" stroke-width="0.55"/>
<line x1="464.7" y1="242.7" x2="464.7" y2="245.3" stroke="#d9434b" stroke-width="0.55"/>
<line x1="471.7" y1="242.7" x2="471.7" y2="245.3" stroke="#d9434b" stroke-width="0.55"/>
<line x1="478.7" y1="250.7" x2="478.7" y2="253.3" stroke="#d9434b" stroke-width="0.55"/>
<line x1="485.7" y1="250.7" x2="485.7" y2="253.3" stroke="#d9434b" stroke-width="0.55"/>
<line x1="443.6" y1="190.2" x2="452.7" y2="190.2" stroke="#2a8a96" stroke-width="0.9"/>
<line x1="448.15" y1="189" x2="448.15" y2="191.4" stroke="#2a8a96" stroke-width="0.7"/>
<text x="454.5" y="192.5" font-size="6.6" fill="#3ccbbd" stroke="#3ccbbd">Wild-type</text>
<line x1="443.6" y1="197.5" x2="452.7" y2="197.5" stroke="#8e2f3c" stroke-width="0.9"/>
<line x1="448.15" y1="196.3" x2="448.15" y2="198.7" stroke="#8e2f3c" stroke-width="0.7"/>
<text x="454.5" y="199.8" font-size="6.6" fill="#d9434b" stroke="#d9434b">KMT2C Mutant</text>
<text x="500.6" y="239.7" font-size="6.6" text-anchor="end" stroke="#231f20"><tspan font-style="italic">P</tspan> = 0.049</text>
<text x="404.7" y="288.3" font-size="7.2" text-anchor="middle" stroke="#231f20">214</text>
<text x="434.6" y="288.3" font-size="7.2" text-anchor="middle" stroke="#231f20">31</text>
<text x="464.5" y="288.3" font-size="7.2" text-anchor="middle" stroke="#231f20">8</text>
<text x="494.4" y="288.3" font-size="7.2" text-anchor="middle" stroke="#231f20">2</text>
<text x="404.7" y="296.3" font-size="7.2" text-anchor="middle" stroke="#231f20">26</text>
<text x="434.6" y="296.3" font-size="7.2" text-anchor="middle" stroke="#231f20">8</text>
<text x="464.5" y="296.3" font-size="7.2" text-anchor="middle" stroke="#231f20">3</text>
<text x="494.4" y="296.3" font-size="7.2" text-anchor="middle" stroke="#231f20">0</text>
<text x="442.5" y="215.4" font-size="7.3" stroke="#231f20">Immunotherapy</text>
<text x="0.8" y="325" font-size="12.5" fill="#000" stroke="#000" font-weight="bold">E</text>
<text x="7.2" y="360.8" font-size="7.4" text-anchor="middle" stroke="#231f20" transform="rotate(-90 7.2 360.8)">Mutations/MB</text>
<rect x="22.7" y="321.2" width="29" height="8" fill="#dcdcdc"/>
<rect x="22.7" y="329.2" width="29" height="30.2" fill="#f0f0f0"/>
<text x="37.2" y="328.1" font-size="6.1" text-anchor="middle" fill="#333" stroke="#333">4.61e-07</text>
<line x1="19.3" y1="357.8" x2="21" y2="357.8" stroke="#444" stroke-width="0.6"/>
<text x="19.1" y="360.1" font-size="6.6" text-anchor="end" fill="#333" stroke="#333">0</text>
<line x1="19.3" y1="350.92" x2="21" y2="350.92" stroke="#444" stroke-width="0.6"/>
<text x="19.1" y="353.22" font-size="6.6" text-anchor="end" fill="#333" stroke="#333">20</text>
<line x1="19.3" y1="344.04" x2="21" y2="344.04" stroke="#444" stroke-width="0.6"/>
<text x="19.1" y="346.34" font-size="6.6" text-anchor="end" fill="#333" stroke="#333">40</text>
<line x1="19.3" y1="337.16" x2="21" y2="337.16" stroke="#444" stroke-width="0.6"/>
<text x="19.1" y="339.46" font-size="6.6" text-anchor="end" fill="#333" stroke="#333">60</text>
<line x1="19.3" y1="330.28" x2="21" y2="330.28" stroke="#444" stroke-width="0.6"/>
<text x="19.1" y="332.58" font-size="6.6" text-anchor="end" fill="#333" stroke="#333">80</text>
<line x1="37.2" y1="359.4" x2="37.2" y2="360.9" stroke="#444" stroke-width="0.5"/>
<line x1="32.35" y1="345" x2="32.35" y2="350" stroke="#4a4a4a" stroke-width="0.6"/>
<line x1="32.35" y1="354.5" x2="32.35" y2="356.3" stroke="#4a4a4a" stroke-width="0.6"/>
<rect x="28.1" y="350" width="8.5" height="4.5" fill="#e86a6b" stroke="#7a2020" stroke-width="0.65"/>
<line x1="28.1" y1="352" x2="36.6" y2="352" stroke="#7a2020" stroke-width="0.9"/>
<circle cx="32.35" cy="337.3" r="1.05" fill="#111"/>
<circle cx="32.35" cy="341" r="1.05" fill="#111"/>
<line x1="41.4" y1="331.5" x2="41.4" y2="352.5" stroke="#111" stroke-width="2.2"/>
<circle cx="41.4" cy="331.5" r="1.1" fill="#111"/>
<line x1="41.4" y1="351" x2="41.4" y2="352.8" stroke="#4a4a4a" stroke-width="0.6"/>
<line x1="41.4" y1="356.8" x2="41.4" y2="357.5" stroke="#4a4a4a" stroke-width="0.6"/>
<rect x="37.1" y="352.8" width="8.6" height="4" fill="#17a08f" stroke="#0d4a42" stroke-width="0.65"/>
<line x1="37.1" y1="354.8" x2="45.7" y2="354.8" stroke="#0d4a42" stroke-width="0.9"/>
<circle cx="41.4" cy="331.2" r="1.05" fill="#111"/>
<rect x="22.7" y="364.2" width="29" height="7.8" fill="#dcdcdc"/>
<rect x="22.7" y="372" width="29" height="30.6" fill="#f0f0f0"/>
<text x="37.2" y="371.1" font-size="6.1" text-anchor="middle" fill="#333" stroke="#333">9.5e-04</text>
<line x1="19.3" y1="399.9" x2="21" y2="399.9" stroke="#444" stroke-width="0.6"/>
<text x="19.1" y="402.2" font-size="6.6" text-anchor="end" fill="#333" stroke="#333">0</text>
<line x1="19.3" y1="392.46" x2="21" y2="392.46" stroke="#444" stroke-width="0.6"/>
<text x="19.1" y="394.76" font-size="6.6" text-anchor="end" fill="#333" stroke="#333">20</text>
<line x1="19.3" y1="385.02" x2="21" y2="385.02" stroke="#444" stroke-width="0.6"/>
<text x="19.1" y="387.32" font-size="6.6" text-anchor="end" fill="#333" stroke="#333">40</text>
<line x1="19.3" y1="377.58" x2="21" y2="377.58" stroke="#444" stroke-width="0.6"/>
<text x="19.1" y="379.88" font-size="6.6" text-anchor="end" fill="#333" stroke="#333">60</text>
<line x1="37.2" y1="402.6" x2="37.2" y2="404.1" stroke="#444" stroke-width="0.5"/>
<line x1="32.35" y1="390.6" x2="32.35" y2="393.5" stroke="#4a4a4a" stroke-width="0.6"/>
<line x1="32.35" y1="397" x2="32.35" y2="398.8" stroke="#4a4a4a" stroke-width="0.6"/>
<rect x="28.1" y="393.5" width="8.5" height="3.5" fill="#c05a6c" stroke="#7a2020" stroke-width="0.65"/>
<line x1="28.1" y1="395.5" x2="36.6" y2="395.5" stroke="#7a2020" stroke-width="0.9"/>
<circle cx="32.35" cy="383" r="1.05" fill="#111"/>
<circle cx="32.35" cy="385.6" r="1.05" fill="#111"/>
<circle cx="32.35" cy="388" r="1.05" fill="#111"/>
<circle cx="32.35" cy="373.5" r="1.05" fill="#111"/>
<line x1="41.4" y1="383" x2="41.4" y2="395" stroke="#111" stroke-width="2.2"/>
<circle cx="41.4" cy="383" r="1.1" fill="#111"/>
<line x1="41.4" y1="393" x2="41.4" y2="395" stroke="#4a4a4a" stroke-width="0.6"/>
<line x1="41.4" y1="397.3" x2="41.4" y2="399" stroke="#4a4a4a" stroke-width="0.6"/>
<rect x="37.1" y="395" width="8.6" height="2.3" fill="#157a6e" stroke="#0d4a42" stroke-width="0.65"/>
<line x1="37.1" y1="396.3" x2="45.7" y2="396.3" stroke="#0d4a42" stroke-width="0.9"/>
<circle cx="41.4" cy="376.7" r="1.05" fill="#111"/>
<text x="37.2" y="409.5" font-size="6.6" text-anchor="middle" stroke="#231f20">KMT2A</text>
<text x="37.2" y="416.6" font-size="6.6" text-anchor="middle" stroke="#231f20">(MLL1)</text>
<rect x="61.6" y="321.2" width="29" height="8" fill="#dcdcdc"/>
<rect x="61.6" y="329.2" width="29" height="30.2" fill="#f0f0f0"/>
<text x="76.1" y="328.1" font-size="6.1" text-anchor="middle" fill="#333" stroke="#333">3.53e-06</text>
<line x1="58.2" y1="357.8" x2="59.9" y2="357.8" stroke="#444" stroke-width="0.6"/>
<text x="58" y="360.1" font-size="6.6" text-anchor="end" fill="#333" stroke="#333">0</text>
<line x1="58.2" y1="350.92" x2="59.9" y2="350.92" stroke="#444" stroke-width="0.6"/>
<text x="58" y="353.22" font-size="6.6" text-anchor="end" fill="#333" stroke="#333">20</text>
<line x1="58.2" y1="344.04" x2="59.9" y2="344.04" stroke="#444" stroke-width="0.6"/>
<text x="58" y="346.34" font-size="6.6" text-anchor="end" fill="#333" stroke="#333">40</text>
<line x1="58.2" y1="337.16" x2="59.9" y2="337.16" stroke="#444" stroke-width="0.6"/>
<text x="58" y="339.46" font-size="6.6" text-anchor="end" fill="#333" stroke="#333">60</text>
<line x1="58.2" y1="330.28" x2="59.9" y2="330.28" stroke="#444" stroke-width="0.6"/>
<text x="58" y="332.58" font-size="6.6" text-anchor="end" fill="#333" stroke="#333">80</text>
<line x1="76.1" y1="359.4" x2="76.1" y2="360.9" stroke="#444" stroke-width="0.5"/>
<line x1="71.25" y1="342" x2="71.25" y2="347" stroke="#4a4a4a" stroke-width="0.6"/>
<line x1="71.25" y1="352.7" x2="71.25" y2="355.5" stroke="#4a4a4a" stroke-width="0.6"/>
<rect x="67" y="347" width="8.5" height="5.7" fill="#e86a6b" stroke="#7a2020" stroke-width="0.65"/>
<line x1="67" y1="350.5" x2="75.5" y2="350.5" stroke="#7a2020" stroke-width="0.9"/>
<line x1="80.3" y1="331.5" x2="80.3" y2="352.5" stroke="#111" stroke-width="2.2"/>
<circle cx="80.3" cy="331.5" r="1.1" fill="#111"/>
<line x1="80.3" y1="351" x2="80.3" y2="352.7" stroke="#4a4a4a" stroke-width="0.6"/>
<line x1="80.3" y1="356.8" x2="80.3" y2="357.5" stroke="#4a4a4a" stroke-width="0.6"/>
<rect x="76" y="352.7" width="8.6" height="4.1" fill="#17a08f" stroke="#0d4a42" stroke-width="0.65"/>
<line x1="76" y1="354.8" x2="84.6" y2="354.8" stroke="#0d4a42" stroke-width="0.9"/>
<circle cx="80.3" cy="331.2" r="1.05" fill="#111"/>
<rect x="61.6" y="364.2" width="29" height="7.8" fill="#dcdcdc"/>
<rect x="61.6" y="372" width="29" height="30.6" fill="#f0f0f0"/>
<text x="76.1" y="371.1" font-size="6.1" text-anchor="middle" fill="#333" stroke="#333">2.3e-05</text>
<line x1="58.2" y1="399.9" x2="59.9" y2="399.9" stroke="#444" stroke-width="0.6"/>
<text x="58" y="402.2" font-size="6.6" text-anchor="end" fill="#333" stroke="#333">0</text>
<line x1="58.2" y1="392.46" x2="59.9" y2="392.46" stroke="#444" stroke-width="0.6"/>
<text x="58" y="394.76" font-size="6.6" text-anchor="end" fill="#333" stroke="#333">20</text>
<line x1="58.2" y1="385.02" x2="59.9" y2="385.02" stroke="#444" stroke-width="0.6"/>
<text x="58" y="387.32" font-size="6.6" text-anchor="end" fill="#333" stroke="#333">40</text>
<line x1="58.2" y1="377.58" x2="59.9" y2="377.58" stroke="#444" stroke-width="0.6"/>
<text x="58" y="379.88" font-size="6.6" text-anchor="end" fill="#333" stroke="#333">60</text>
<line x1="76.1" y1="402.6" x2="76.1" y2="404.1" stroke="#444" stroke-width="0.5"/>
<line x1="71.25" y1="383.8" x2="71.25" y2="388.7" stroke="#4a4a4a" stroke-width="0.6"/>
<line x1="71.25" y1="395.9" x2="71.25" y2="398.5" stroke="#4a4a4a" stroke-width="0.6"/>
<rect x="67" y="388.7" width="8.5" height="7.2" fill="#e86a6b" stroke="#7a2020" stroke-width="0.65"/>
<line x1="67" y1="394.8" x2="75.5" y2="394.8" stroke="#7a2020" stroke-width="0.9"/>
<line x1="80.3" y1="383" x2="80.3" y2="395" stroke="#111" stroke-width="2.2"/>
<circle cx="80.3" cy="383" r="1.1" fill="#111"/>
<line x1="80.3" y1="393.5" x2="80.3" y2="395.4" stroke="#4a4a4a" stroke-width="0.6"/>
<line x1="80.3" y1="398" x2="80.3" y2="399" stroke="#4a4a4a" stroke-width="0.6"/>
<rect x="76" y="395.4" width="8.6" height="2.6" fill="#157a6e" stroke="#0d4a42" stroke-width="0.65"/>
<line x1="76" y1="396.6" x2="84.6" y2="396.6" stroke="#0d4a42" stroke-width="0.9"/>
<circle cx="80.3" cy="373.4" r="1.05" fill="#111"/>
<circle cx="80.3" cy="376.6" r="1.05" fill="#111"/>
<text x="76.1" y="409.5" font-size="6.6" text-anchor="middle" stroke="#231f20">KMT2B</text>
<text x="76.1" y="416.6" font-size="6.6" text-anchor="middle" stroke="#231f20">(MLL2)</text>
<rect x="100.5" y="321.2" width="29" height="8" fill="#dcdcdc"/>
<rect x="100.5" y="329.2" width="29" height="30.2" fill="#f0f0f0"/>
<text x="115" y="328.1" font-size="6.1" text-anchor="middle" fill="#333" stroke="#333">3.3e-13</text>
<line x1="97.1" y1="357.8" x2="98.8" y2="357.8" stroke="#444" stroke-width="0.6"/>
<text x="96.9" y="360.1" font-size="6.6" text-anchor="end" fill="#333" stroke="#333">0</text>
<line x1="97.1" y1="350.92" x2="98.8" y2="350.92" stroke="#444" stroke-width="0.6"/>
<text x="96.9" y="353.22" font-size="6.6" text-anchor="end" fill="#333" stroke="#333">20</text>
<line x1="97.1" y1="344.04" x2="98.8" y2="344.04" stroke="#444" stroke-width="0.6"/>
<text x="96.9" y="346.34" font-size="6.6" text-anchor="end" fill="#333" stroke="#333">40</text>
<line x1="97.1" y1="337.16" x2="98.8" y2="337.16" stroke="#444" stroke-width="0.6"/>
<text x="96.9" y="339.46" font-size="6.6" text-anchor="end" fill="#333" stroke="#333">60</text>
<line x1="97.1" y1="330.28" x2="98.8" y2="330.28" stroke="#444" stroke-width="0.6"/>
<text x="96.9" y="332.58" font-size="6.6" text-anchor="end" fill="#333" stroke="#333">80</text>
<line x1="115" y1="359.4" x2="115" y2="360.9" stroke="#444" stroke-width="0.5"/>
<circle cx="110.15" cy="330.6" r="1.05" fill="#111"/>
<circle cx="110.15" cy="333.2" r="1.05" fill="#111"/>
<circle cx="110.15" cy="335.8" r="1.05" fill="#111"/>
<circle cx="110.15" cy="338.4" r="1.05" fill="#111"/>
<line x1="110.15" y1="340" x2="110.15" y2="348" stroke="#4a4a4a" stroke-width="0.6"/>
<line x1="110.15" y1="354.7" x2="110.15" y2="356.5" stroke="#4a4a4a" stroke-width="0.6"/>
<rect x="105.9" y="348" width="8.5" height="6.7" fill="#e86a6b" stroke="#7a2020" stroke-width="0.65"/>
<line x1="105.9" y1="351.6" x2="114.4" y2="351.6" stroke="#7a2020" stroke-width="0.9"/>
<line x1="119.2" y1="337.3" x2="119.2" y2="353" stroke="#111" stroke-width="2.2"/>
<circle cx="119.2" cy="337.3" r="1.1" fill="#111"/>
<line x1="119.2" y1="351" x2="119.2" y2="353.2" stroke="#4a4a4a" stroke-width="0.6"/>
<line x1="119.2" y1="356.8" x2="119.2" y2="357.5" stroke="#4a4a4a" stroke-width="0.6"/>
<rect x="114.9" y="353.2" width="8.6" height="3.6" fill="#17a08f" stroke="#0d4a42" stroke-width="0.65"/>
<line x1="114.9" y1="355" x2="123.5" y2="355" stroke="#0d4a42" stroke-width="0.9"/>
<rect x="100.5" y="364.2" width="29" height="7.8" fill="#dcdcdc"/>
<rect x="100.5" y="372" width="29" height="30.6" fill="#f0f0f0"/>
<text x="115" y="371.1" font-size="6.1" text-anchor="middle" fill="#333" stroke="#333">1.3e-05</text>
<line x1="97.1" y1="399.9" x2="98.8" y2="399.9" stroke="#444" stroke-width="0.6"/>
<text x="96.9" y="402.2" font-size="6.6" text-anchor="end" fill="#333" stroke="#333">0</text>
<line x1="97.1" y1="392.46" x2="98.8" y2="392.46" stroke="#444" stroke-width="0.6"/>
<text x="96.9" y="394.76" font-size="6.6" text-anchor="end" fill="#333" stroke="#333">20</text>
<line x1="97.1" y1="385.02" x2="98.8" y2="385.02" stroke="#444" stroke-width="0.6"/>
<text x="96.9" y="387.32" font-size="6.6" text-anchor="end" fill="#333" stroke="#333">40</text>
<line x1="97.1" y1="377.58" x2="98.8" y2="377.58" stroke="#444" stroke-width="0.6"/>
<text x="96.9" y="379.88" font-size="6.6" text-anchor="end" fill="#333" stroke="#333">60</text>
<line x1="115" y1="402.6" x2="115" y2="404.1" stroke="#444" stroke-width="0.5"/>
<line x1="110.15" y1="384.6" x2="110.15" y2="388.5" stroke="#111" stroke-width="2.2"/>
<circle cx="110.15" cy="384.6" r="1.1" fill="#111"/>
<line x1="110.15" y1="390" x2="110.15" y2="393" stroke="#4a4a4a" stroke-width="0.6"/>
<line x1="110.15" y1="397" x2="110.15" y2="398.8" stroke="#4a4a4a" stroke-width="0.6"/>
<rect x="105.9" y="393" width="8.5" height="4" fill="#c05a6c" stroke="#7a2020" stroke-width="0.65"/>
<line x1="105.9" y1="395" x2="114.4" y2="395" stroke="#7a2020" stroke-width="0.9"/>
<circle cx="110.15" cy="373.8" r="1.05" fill="#111"/>
<line x1="119.2" y1="382.3" x2="119.2" y2="395" stroke="#111" stroke-width="2.2"/>
<circle cx="119.2" cy="382.3" r="1.1" fill="#111"/>
<line x1="119.2" y1="393" x2="119.2" y2="395" stroke="#4a4a4a" stroke-width="0.6"/>
<line x1="119.2" y1="397.7" x2="119.2" y2="399" stroke="#4a4a4a" stroke-width="0.6"/>
<rect x="114.9" y="395" width="8.6" height="2.7" fill="#157a6e" stroke="#0d4a42" stroke-width="0.65"/>
<line x1="114.9" y1="396.3" x2="123.5" y2="396.3" stroke="#0d4a42" stroke-width="0.9"/>
<circle cx="119.2" cy="376.2" r="1.05" fill="#111"/>
<text x="115" y="409.5" font-size="6.6" text-anchor="middle" stroke="#231f20">KMT2C</text>
<text x="115" y="416.6" font-size="6.6" text-anchor="middle" stroke="#231f20">(MLL3)</text>
<rect x="139.4" y="321.2" width="29" height="8" fill="#dcdcdc"/>
<rect x="139.4" y="329.2" width="29" height="30.2" fill="#f0f0f0"/>
<text x="153.9" y="328.1" font-size="6.1" text-anchor="middle" fill="#333" stroke="#333">6.2e-06</text>
<line x1="136" y1="357.8" x2="137.7" y2="357.8" stroke="#444" stroke-width="0.6"/>
<text x="135.8" y="360.1" font-size="6.6" text-anchor="end" fill="#333" stroke="#333">0</text>
<line x1="136" y1="350.92" x2="137.7" y2="350.92" stroke="#444" stroke-width="0.6"/>
<text x="135.8" y="353.22" font-size="6.6" text-anchor="end" fill="#333" stroke="#333">20</text>
<line x1="136" y1="344.04" x2="137.7" y2="344.04" stroke="#444" stroke-width="0.6"/>
<text x="135.8" y="346.34" font-size="6.6" text-anchor="end" fill="#333" stroke="#333">40</text>
<line x1="136" y1="337.16" x2="137.7" y2="337.16" stroke="#444" stroke-width="0.6"/>
<text x="135.8" y="339.46" font-size="6.6" text-anchor="end" fill="#333" stroke="#333">60</text>
<line x1="136" y1="330.28" x2="137.7" y2="330.28" stroke="#444" stroke-width="0.6"/>
<text x="135.8" y="332.58" font-size="6.6" text-anchor="end" fill="#333" stroke="#333">80</text>
<line x1="153.9" y1="359.4" x2="153.9" y2="360.9" stroke="#444" stroke-width="0.5"/>
<line x1="149.05" y1="341.5" x2="149.05" y2="349.2" stroke="#4a4a4a" stroke-width="0.6"/>
<line x1="149.05" y1="355.3" x2="149.05" y2="356.8" stroke="#4a4a4a" stroke-width="0.6"/>
<rect x="144.8" y="349.2" width="8.5" height="6.1" fill="#e86a6b" stroke="#7a2020" stroke-width="0.65"/>
<line x1="144.8" y1="352.5" x2="153.3" y2="352.5" stroke="#7a2020" stroke-width="0.9"/>
<circle cx="149.05" cy="330.7" r="1.05" fill="#111"/>
<line x1="158.1" y1="332.2" x2="158.1" y2="352.5" stroke="#111" stroke-width="2.2"/>
<circle cx="158.1" cy="332.2" r="1.1" fill="#111"/>
<line x1="158.1" y1="351" x2="158.1" y2="352.7" stroke="#4a4a4a" stroke-width="0.6"/>
<line x1="158.1" y1="356.8" x2="158.1" y2="357.5" stroke="#4a4a4a" stroke-width="0.6"/>
<rect x="153.8" y="352.7" width="8.6" height="4.1" fill="#17a08f" stroke="#0d4a42" stroke-width="0.65"/>
<line x1="153.8" y1="354.8" x2="162.4" y2="354.8" stroke="#0d4a42" stroke-width="0.9"/>
<rect x="139.4" y="364.2" width="29" height="7.8" fill="#dcdcdc"/>
<rect x="139.4" y="372" width="29" height="30.6" fill="#f0f0f0"/>
<text x="153.9" y="371.1" font-size="6.1" text-anchor="middle" fill="#333" stroke="#333">4.6e-07</text>
<line x1="136" y1="399.9" x2="137.7" y2="399.9" stroke="#444" stroke-width="0.6"/>
<text x="135.8" y="402.2" font-size="6.6" text-anchor="end" fill="#333" stroke="#333">0</text>
<line x1="136" y1="392.46" x2="137.7" y2="392.46" stroke="#444" stroke-width="0.6"/>
<text x="135.8" y="394.76" font-size="6.6" text-anchor="end" fill="#333" stroke="#333">20</text>
<line x1="136" y1="385.02" x2="137.7" y2="385.02" stroke="#444" stroke-width="0.6"/>
<text x="135.8" y="387.32" font-size="6.6" text-anchor="end" fill="#333" stroke="#333">40</text>
<line x1="136" y1="377.58" x2="137.7" y2="377.58" stroke="#444" stroke-width="0.6"/>
<text x="135.8" y="379.88" font-size="6.6" text-anchor="end" fill="#333" stroke="#333">60</text>
<line x1="153.9" y1="402.6" x2="153.9" y2="404.1" stroke="#444" stroke-width="0.5"/>
<line x1="149.05" y1="383" x2="149.05" y2="393.8" stroke="#111" stroke-width="2.2"/>
<circle cx="149.05" cy="383" r="1.1" fill="#111"/>
<line x1="149.05" y1="391" x2="149.05" y2="393.8" stroke="#4a4a4a" stroke-width="0.6"/>
<line x1="149.05" y1="397" x2="149.05" y2="398.8" stroke="#4a4a4a" stroke-width="0.6"/>
<rect x="144.8" y="393.8" width="8.5" height="3.2" fill="#c05a6c" stroke="#7a2020" stroke-width="0.65"/>
<line x1="144.8" y1="395.5" x2="153.3" y2="395.5" stroke="#7a2020" stroke-width="0.9"/>
<circle cx="149.05" cy="373" r="1.05" fill="#111"/>
<circle cx="149.05" cy="375.4" r="1.05" fill="#111"/>
<circle cx="149.05" cy="377.4" r="1.05" fill="#111"/>
<line x1="158.1" y1="383.8" x2="158.1" y2="395" stroke="#111" stroke-width="2.2"/>
<circle cx="158.1" cy="383.8" r="1.1" fill="#111"/>
<line x1="158.1" y1="393" x2="158.1" y2="395" stroke="#4a4a4a" stroke-width="0.6"/>
<line x1="158.1" y1="397.7" x2="158.1" y2="399" stroke="#4a4a4a" stroke-width="0.6"/>
<rect x="153.8" y="395" width="8.6" height="2.7" fill="#157a6e" stroke="#0d4a42" stroke-width="0.65"/>
<line x1="153.8" y1="396.3" x2="162.4" y2="396.3" stroke="#0d4a42" stroke-width="0.9"/>
<text x="153.9" y="409.5" font-size="6.6" text-anchor="middle" stroke="#231f20">KMT2D</text>
<text x="153.9" y="416.6" font-size="6.6" text-anchor="middle" stroke="#231f20">(MLL4)</text>
<rect x="178.3" y="321.2" width="29" height="8" fill="#dcdcdc"/>
<rect x="178.3" y="329.2" width="29" height="30.2" fill="#f0f0f0"/>
<text x="192.8" y="328.1" font-size="6.1" text-anchor="middle" fill="#333" stroke="#333">8.8e-05</text>
<line x1="174.9" y1="357.8" x2="176.6" y2="357.8" stroke="#444" stroke-width="0.6"/>
<text x="174.7" y="360.1" font-size="6.6" text-anchor="end" fill="#333" stroke="#333">0</text>
<line x1="174.9" y1="350.92" x2="176.6" y2="350.92" stroke="#444" stroke-width="0.6"/>
<text x="174.7" y="353.22" font-size="6.6" text-anchor="end" fill="#333" stroke="#333">20</text>
<line x1="174.9" y1="344.04" x2="176.6" y2="344.04" stroke="#444" stroke-width="0.6"/>
<text x="174.7" y="346.34" font-size="6.6" text-anchor="end" fill="#333" stroke="#333">40</text>
<line x1="174.9" y1="337.16" x2="176.6" y2="337.16" stroke="#444" stroke-width="0.6"/>
<text x="174.7" y="339.46" font-size="6.6" text-anchor="end" fill="#333" stroke="#333">60</text>
<line x1="174.9" y1="330.28" x2="176.6" y2="330.28" stroke="#444" stroke-width="0.6"/>
<text x="174.7" y="332.58" font-size="6.6" text-anchor="end" fill="#333" stroke="#333">80</text>
<line x1="192.8" y1="359.4" x2="192.8" y2="360.9" stroke="#444" stroke-width="0.5"/>
<line x1="187.95" y1="342.7" x2="187.95" y2="348.5" stroke="#4a4a4a" stroke-width="0.6"/>
<line x1="187.95" y1="355.3" x2="187.95" y2="356.8" stroke="#4a4a4a" stroke-width="0.6"/>
<rect x="183.7" y="348.5" width="8.5" height="6.8" fill="#e86a6b" stroke="#7a2020" stroke-width="0.65"/>
<line x1="183.7" y1="352" x2="192.2" y2="352" stroke="#7a2020" stroke-width="0.9"/>
<circle cx="187.95" cy="338" r="1.05" fill="#111"/>
<line x1="197" y1="338" x2="197" y2="352.5" stroke="#111" stroke-width="2.2"/>
<circle cx="197" cy="338" r="1.1" fill="#111"/>
<line x1="197" y1="351" x2="197" y2="352.7" stroke="#4a4a4a" stroke-width="0.6"/>
<line x1="197" y1="356.5" x2="197" y2="357.5" stroke="#4a4a4a" stroke-width="0.6"/>
<rect x="192.7" y="352.7" width="8.6" height="3.8" fill="#17a08f" stroke="#0d4a42" stroke-width="0.65"/>
<line x1="192.7" y1="354.7" x2="201.3" y2="354.7" stroke="#0d4a42" stroke-width="0.9"/>
<circle cx="197" cy="330.5" r="1.05" fill="#111"/>
<circle cx="197" cy="332.6" r="1.05" fill="#111"/>
<circle cx="197" cy="334.6" r="1.05" fill="#111"/>
<circle cx="197" cy="336.6" r="1.05" fill="#111"/>
<rect x="178.3" y="364.2" width="29" height="7.8" fill="#dcdcdc"/>
<rect x="178.3" y="372" width="29" height="30.6" fill="#f0f0f0"/>
<text x="192.8" y="371.1" font-size="6.1" text-anchor="middle" fill="#333" stroke="#333">0.0086</text>
<line x1="174.9" y1="399.9" x2="176.6" y2="399.9" stroke="#444" stroke-width="0.6"/>
<text x="174.7" y="402.2" font-size="6.6" text-anchor="end" fill="#333" stroke="#333">0</text>
<line x1="174.9" y1="392.46" x2="176.6" y2="392.46" stroke="#444" stroke-width="0.6"/>
<text x="174.7" y="394.76" font-size="6.6" text-anchor="end" fill="#333" stroke="#333">20</text>
<line x1="174.9" y1="385.02" x2="176.6" y2="385.02" stroke="#444" stroke-width="0.6"/>
<text x="174.7" y="387.32" font-size="6.6" text-anchor="end" fill="#333" stroke="#333">40</text>
<line x1="174.9" y1="377.58" x2="176.6" y2="377.58" stroke="#444" stroke-width="0.6"/>
<text x="174.7" y="379.88" font-size="6.6" text-anchor="end" fill="#333" stroke="#333">60</text>
<line x1="192.8" y1="402.6" x2="192.8" y2="404.1" stroke="#444" stroke-width="0.5"/>
<line x1="187.95" y1="392" x2="187.95" y2="394.2" stroke="#4a4a4a" stroke-width="0.6"/>
<line x1="187.95" y1="397" x2="187.95" y2="398.8" stroke="#4a4a4a" stroke-width="0.6"/>
<rect x="183.7" y="394.2" width="8.5" height="2.8" fill="#c05a6c" stroke="#7a2020" stroke-width="0.65"/>
<line x1="183.7" y1="395.5" x2="192.2" y2="395.5" stroke="#7a2020" stroke-width="0.9"/>
<circle cx="187.95" cy="388" r="1.05" fill="#111"/>
<line x1="197" y1="383.8" x2="197" y2="395" stroke="#111" stroke-width="2.2"/>
<circle cx="197" cy="383.8" r="1.1" fill="#111"/>
<line x1="197" y1="393.5" x2="197" y2="395.4" stroke="#4a4a4a" stroke-width="0.6"/>
<line x1="197" y1="398.2" x2="197" y2="399" stroke="#4a4a4a" stroke-width="0.6"/>
<rect x="192.7" y="395.4" width="8.6" height="2.8" fill="#157a6e" stroke="#0d4a42" stroke-width="0.65"/>
<line x1="192.7" y1="396.7" x2="201.3" y2="396.7" stroke="#0d4a42" stroke-width="0.9"/>
<circle cx="197" cy="373" r="1.05" fill="#111"/>
<circle cx="197" cy="375.4" r="1.05" fill="#111"/>
<circle cx="197" cy="377.4" r="1.05" fill="#111"/>
<text x="192.8" y="409.5" font-size="6.6" text-anchor="middle" stroke="#231f20">SMRCA4</text>
<rect x="217.2" y="321.2" width="29" height="8" fill="#dcdcdc"/>
<rect x="217.2" y="329.2" width="29" height="30.2" fill="#f0f0f0"/>
<text x="231.7" y="328.1" font-size="6.1" text-anchor="middle" fill="#333" stroke="#333">1.4e-06</text>
<line x1="213.8" y1="357.8" x2="215.5" y2="357.8" stroke="#444" stroke-width="0.6"/>
<text x="213.6" y="360.1" font-size="6.6" text-anchor="end" fill="#333" stroke="#333">0</text>
<line x1="213.8" y1="350.92" x2="215.5" y2="350.92" stroke="#444" stroke-width="0.6"/>
<text x="213.6" y="353.22" font-size="6.6" text-anchor="end" fill="#333" stroke="#333">20</text>
<line x1="213.8" y1="344.04" x2="215.5" y2="344.04" stroke="#444" stroke-width="0.6"/>
<text x="213.6" y="346.34" font-size="6.6" text-anchor="end" fill="#333" stroke="#333">40</text>
<line x1="213.8" y1="337.16" x2="215.5" y2="337.16" stroke="#444" stroke-width="0.6"/>
<text x="213.6" y="339.46" font-size="6.6" text-anchor="end" fill="#333" stroke="#333">60</text>
<line x1="213.8" y1="330.28" x2="215.5" y2="330.28" stroke="#444" stroke-width="0.6"/>
<text x="213.6" y="332.58" font-size="6.6" text-anchor="end" fill="#333" stroke="#333">80</text>
<line x1="231.7" y1="359.4" x2="231.7" y2="360.9" stroke="#444" stroke-width="0.5"/>
<line x1="226.85" y1="336.5" x2="226.85" y2="348" stroke="#4a4a4a" stroke-width="0.6"/>
<line x1="226.85" y1="355.8" x2="226.85" y2="357" stroke="#4a4a4a" stroke-width="0.6"/>
<rect x="222.6" y="348" width="8.5" height="7.8" fill="#e86a6b" stroke="#7a2020" stroke-width="0.65"/>
<line x1="222.6" y1="352" x2="231.1" y2="352" stroke="#7a2020" stroke-width="0.9"/>
<circle cx="226.85" cy="332.7" r="1.05" fill="#111"/>
<line x1="235.9" y1="331.5" x2="235.9" y2="352.5" stroke="#111" stroke-width="2.2"/>
<circle cx="235.9" cy="331.5" r="1.1" fill="#111"/>
<line x1="235.9" y1="351" x2="235.9" y2="352.7" stroke="#4a4a4a" stroke-width="0.6"/>
<line x1="235.9" y1="356.5" x2="235.9" y2="357.5" stroke="#4a4a4a" stroke-width="0.6"/>
<rect x="231.6" y="352.7" width="8.6" height="3.8" fill="#17a08f" stroke="#0d4a42" stroke-width="0.65"/>
<line x1="231.6" y1="354.7" x2="240.2" y2="354.7" stroke="#0d4a42" stroke-width="0.9"/>
<circle cx="235.9" cy="330.8" r="1.05" fill="#111"/>
<rect x="217.2" y="364.2" width="29" height="7.8" fill="#dcdcdc"/>
<rect x="217.2" y="372" width="29" height="30.6" fill="#f0f0f0"/>
<text x="231.7" y="371.1" font-size="6.1" text-anchor="middle" fill="#333" stroke="#333">0.014</text>
<line x1="213.8" y1="399.9" x2="215.5" y2="399.9" stroke="#444" stroke-width="0.6"/>
<text x="213.6" y="402.2" font-size="6.6" text-anchor="end" fill="#333" stroke="#333">0</text>
<line x1="213.8" y1="392.46" x2="215.5" y2="392.46" stroke="#444" stroke-width="0.6"/>
<text x="213.6" y="394.76" font-size="6.6" text-anchor="end" fill="#333" stroke="#333">20</text>
<line x1="213.8" y1="385.02" x2="215.5" y2="385.02" stroke="#444" stroke-width="0.6"/>
<text x="213.6" y="387.32" font-size="6.6" text-anchor="end" fill="#333" stroke="#333">40</text>
<line x1="213.8" y1="377.58" x2="215.5" y2="377.58" stroke="#444" stroke-width="0.6"/>
<text x="213.6" y="379.88" font-size="6.6" text-anchor="end" fill="#333" stroke="#333">60</text>
<line x1="231.7" y1="402.6" x2="231.7" y2="404.1" stroke="#444" stroke-width="0.5"/>
<line x1="226.85" y1="385.4" x2="226.85" y2="388.5" stroke="#111" stroke-width="2.2"/>
<circle cx="226.85" cy="385.4" r="1.1" fill="#111"/>
<line x1="226.85" y1="391" x2="226.85" y2="393.5" stroke="#4a4a4a" stroke-width="0.6"/>
<line x1="226.85" y1="397" x2="226.85" y2="398.8" stroke="#4a4a4a" stroke-width="0.6"/>
<rect x="222.6" y="393.5" width="8.5" height="3.5" fill="#c05a6c" stroke="#7a2020" stroke-width="0.65"/>
<line x1="222.6" y1="395.3" x2="231.1" y2="395.3" stroke="#7a2020" stroke-width="0.9"/>
<line x1="235.9" y1="383" x2="235.9" y2="395" stroke="#111" stroke-width="2.2"/>
<circle cx="235.9" cy="383" r="1.1" fill="#111"/>
<line x1="235.9" y1="393" x2="235.9" y2="395" stroke="#4a4a4a" stroke-width="0.6"/>
<line x1="235.9" y1="397.7" x2="235.9" y2="399" stroke="#4a4a4a" stroke-width="0.6"/>
<rect x="231.6" y="395" width="8.6" height="2.7" fill="#157a6e" stroke="#0d4a42" stroke-width="0.65"/>
<line x1="231.6" y1="396.3" x2="240.2" y2="396.3" stroke="#0d4a42" stroke-width="0.9"/>
<circle cx="235.9" cy="373" r="1.05" fill="#111"/>
<circle cx="235.9" cy="375.4" r="1.05" fill="#111"/>
<text x="231.7" y="409.5" font-size="6.6" text-anchor="middle" stroke="#231f20">ATRX</text>
<rect x="256.1" y="321.2" width="29" height="8" fill="#dcdcdc"/>
<rect x="256.1" y="329.2" width="29" height="30.2" fill="#f0f0f0"/>
<text x="270.6" y="328.1" font-size="6.1" text-anchor="middle" fill="#333" stroke="#333">0.24</text>
<line x1="252.7" y1="357.8" x2="254.4" y2="357.8" stroke="#444" stroke-width="0.6"/>
<text x="252.5" y="360.1" font-size="6.6" text-anchor="end" fill="#333" stroke="#333">0</text>
<line x1="252.7" y1="350.92" x2="254.4" y2="350.92" stroke="#444" stroke-width="0.6"/>
<text x="252.5" y="353.22" font-size="6.6" text-anchor="end" fill="#333" stroke="#333">20</text>
<line x1="252.7" y1="344.04" x2="254.4" y2="344.04" stroke="#444" stroke-width="0.6"/>
<text x="252.5" y="346.34" font-size="6.6" text-anchor="end" fill="#333" stroke="#333">40</text>
<line x1="252.7" y1="337.16" x2="254.4" y2="337.16" stroke="#444" stroke-width="0.6"/>
<text x="252.5" y="339.46" font-size="6.6" text-anchor="end" fill="#333" stroke="#333">60</text>
<line x1="252.7" y1="330.28" x2="254.4" y2="330.28" stroke="#444" stroke-width="0.6"/>
<text x="252.5" y="332.58" font-size="6.6" text-anchor="end" fill="#333" stroke="#333">80</text>
<line x1="270.6" y1="359.4" x2="270.6" y2="360.9" stroke="#444" stroke-width="0.5"/>
<line x1="265.75" y1="341.8" x2="265.75" y2="350.5" stroke="#4a4a4a" stroke-width="0.6"/>
<line x1="265.75" y1="356.5" x2="265.75" y2="357.3" stroke="#4a4a4a" stroke-width="0.6"/>
<rect x="261.5" y="350.5" width="8.5" height="6" fill="#e86a6b" stroke="#7a2020" stroke-width="0.65"/>
<line x1="261.5" y1="353.9" x2="270" y2="353.9" stroke="#7a2020" stroke-width="0.9"/>
<circle cx="265.75" cy="332.6" r="1.05" fill="#111"/>
<line x1="274.8" y1="335.4" x2="274.8" y2="350" stroke="#111" stroke-width="2.2"/>
<circle cx="274.8" cy="335.4" r="1.1" fill="#111"/>
<line x1="274.8" y1="350.5" x2="274.8" y2="352.2" stroke="#4a4a4a" stroke-width="0.6"/>
<line x1="274.8" y1="356.5" x2="274.8" y2="357.5" stroke="#4a4a4a" stroke-width="0.6"/>
<rect x="270.5" y="352.2" width="8.6" height="4.3" fill="#17a08f" stroke="#0d4a42" stroke-width="0.65"/>
<line x1="270.5" y1="354.5" x2="279.1" y2="354.5" stroke="#0d4a42" stroke-width="0.9"/>
<circle cx="274.8" cy="331.4" r="1.05" fill="#111"/>
<rect x="256.1" y="364.2" width="29" height="7.8" fill="#dcdcdc"/>
<rect x="256.1" y="372" width="29" height="30.6" fill="#f0f0f0"/>
<text x="270.6" y="371.1" font-size="6.1" text-anchor="middle" fill="#333" stroke="#333">0.019</text>
<line x1="252.7" y1="399.9" x2="254.4" y2="399.9" stroke="#444" stroke-width="0.6"/>
<text x="252.5" y="402.2" font-size="6.6" text-anchor="end" fill="#333" stroke="#333">0</text>
<line x1="252.7" y1="392.46" x2="254.4" y2="392.46" stroke="#444" stroke-width="0.6"/>
<text x="252.5" y="394.76" font-size="6.6" text-anchor="end" fill="#333" stroke="#333">20</text>
<line x1="252.7" y1="385.02" x2="254.4" y2="385.02" stroke="#444" stroke-width="0.6"/>
<text x="252.5" y="387.32" font-size="6.6" text-anchor="end" fill="#333" stroke="#333">40</text>
<line x1="252.7" y1="377.58" x2="254.4" y2="377.58" stroke="#444" stroke-width="0.6"/>
<text x="252.5" y="379.88" font-size="6.6" text-anchor="end" fill="#333" stroke="#333">60</text>
<line x1="270.6" y1="402.6" x2="270.6" y2="404.1" stroke="#444" stroke-width="0.5"/>
<line x1="265.75" y1="393" x2="265.75" y2="394.3" stroke="#4a4a4a" stroke-width="0.6"/>
<line x1="265.75" y1="397.2" x2="265.75" y2="398.8" stroke="#4a4a4a" stroke-width="0.6"/>
<rect x="261.5" y="394.3" width="8.5" height="2.9" fill="#c05a6c" stroke="#7a2020" stroke-width="0.65"/>
<line x1="261.5" y1="395.5" x2="270" y2="395.5" stroke="#7a2020" stroke-width="0.9"/>
<circle cx="265.75" cy="385" r="1.05" fill="#111"/>
<circle cx="265.75" cy="387.7" r="1.05" fill="#111"/>
<circle cx="265.75" cy="391.5" r="1.05" fill="#111"/>
<line x1="274.8" y1="382.5" x2="274.8" y2="394.6" stroke="#111" stroke-width="2.2"/>
<circle cx="274.8" cy="382.5" r="1.1" fill="#111"/>
<line x1="274.8" y1="393" x2="274.8" y2="394.6" stroke="#4a4a4a" stroke-width="0.6"/>
<line x1="274.8" y1="398" x2="274.8" y2="399" stroke="#4a4a4a" stroke-width="0.6"/>
<rect x="270.5" y="394.6" width="8.6" height="3.4" fill="#157a6e" stroke="#0d4a42" stroke-width="0.65"/>
<line x1="270.5" y1="396.3" x2="279.1" y2="396.3" stroke="#0d4a42" stroke-width="0.9"/>
<circle cx="274.8" cy="373" r="1.05" fill="#111"/>
<circle cx="274.8" cy="376.4" r="1.05" fill="#111"/>
<text x="270.6" y="409.5" font-size="6.6" text-anchor="middle" stroke="#231f20">SETD2</text>
<rect x="295" y="321.2" width="29" height="8" fill="#dcdcdc"/>
<rect x="295" y="329.2" width="29" height="30.2" fill="#f0f0f0"/>
<text x="309.5" y="328.1" font-size="6.1" text-anchor="middle" fill="#333" stroke="#333">5.3e-04</text>
<line x1="291.6" y1="357.8" x2="293.3" y2="357.8" stroke="#444" stroke-width="0.6"/>
<text x="291.4" y="360.1" font-size="6.6" text-anchor="end" fill="#333" stroke="#333">0</text>
<line x1="291.6" y1="350.92" x2="293.3" y2="350.92" stroke="#444" stroke-width="0.6"/>
<text x="291.4" y="353.22" font-size="6.6" text-anchor="end" fill="#333" stroke="#333">20</text>
<line x1="291.6" y1="344.04" x2="293.3" y2="344.04" stroke="#444" stroke-width="0.6"/>
<text x="291.4" y="346.34" font-size="6.6" text-anchor="end" fill="#333" stroke="#333">40</text>
<line x1="291.6" y1="337.16" x2="293.3" y2="337.16" stroke="#444" stroke-width="0.6"/>
<text x="291.4" y="339.46" font-size="6.6" text-anchor="end" fill="#333" stroke="#333">60</text>
<line x1="291.6" y1="330.28" x2="293.3" y2="330.28" stroke="#444" stroke-width="0.6"/>
<text x="291.4" y="332.58" font-size="6.6" text-anchor="end" fill="#333" stroke="#333">80</text>
<line x1="309.5" y1="359.4" x2="309.5" y2="360.9" stroke="#444" stroke-width="0.5"/>
<line x1="304.65" y1="331.4" x2="304.65" y2="346.1" stroke="#4a4a4a" stroke-width="0.6"/>
<line x1="304.65" y1="356.5" x2="304.65" y2="357.3" stroke="#4a4a4a" stroke-width="0.6"/>
<rect x="300.4" y="346.1" width="8.5" height="10.4" fill="#e86a6b" stroke="#7a2020" stroke-width="0.65"/>
<line x1="300.4" y1="353.9" x2="308.9" y2="353.9" stroke="#7a2020" stroke-width="0.9"/>
<line x1="313.7" y1="335.4" x2="313.7" y2="350.5" stroke="#111" stroke-width="2.2"/>
<circle cx="313.7" cy="335.4" r="1.1" fill="#111"/>
<line x1="313.7" y1="350.5" x2="313.7" y2="352.2" stroke="#4a4a4a" stroke-width="0.6"/>
<line x1="313.7" y1="356.5" x2="313.7" y2="357.5" stroke="#4a4a4a" stroke-width="0.6"/>
<rect x="309.4" y="352.2" width="8.6" height="4.3" fill="#17a08f" stroke="#0d4a42" stroke-width="0.65"/>
<line x1="309.4" y1="354.5" x2="318" y2="354.5" stroke="#0d4a42" stroke-width="0.9"/>
<rect x="295" y="364.2" width="29" height="7.8" fill="#dcdcdc"/>
<rect x="295" y="372" width="29" height="30.6" fill="#f0f0f0"/>
<text x="309.5" y="371.1" font-size="6.1" text-anchor="middle" fill="#333" stroke="#333">0.034</text>
<line x1="291.6" y1="399.9" x2="293.3" y2="399.9" stroke="#444" stroke-width="0.6"/>
<text x="291.4" y="402.2" font-size="6.6" text-anchor="end" fill="#333" stroke="#333">0</text>
<line x1="291.6" y1="392.46" x2="293.3" y2="392.46" stroke="#444" stroke-width="0.6"/>
<text x="291.4" y="394.76" font-size="6.6" text-anchor="end" fill="#333" stroke="#333">20</text>
<line x1="291.6" y1="385.02" x2="293.3" y2="385.02" stroke="#444" stroke-width="0.6"/>
<text x="291.4" y="387.32" font-size="6.6" text-anchor="end" fill="#333" stroke="#333">40</text>
<line x1="291.6" y1="377.58" x2="293.3" y2="377.58" stroke="#444" stroke-width="0.6"/>
<text x="291.4" y="379.88" font-size="6.6" text-anchor="end" fill="#333" stroke="#333">60</text>
<line x1="309.5" y1="402.6" x2="309.5" y2="404.1" stroke="#444" stroke-width="0.5"/>
<line x1="304.65" y1="392.9" x2="304.65" y2="395" stroke="#4a4a4a" stroke-width="0.6"/>
<line x1="304.65" y1="397.7" x2="304.65" y2="398.8" stroke="#4a4a4a" stroke-width="0.6"/>
<rect x="300.4" y="395" width="8.5" height="2.7" fill="#c05a6c" stroke="#7a2020" stroke-width="0.65"/>
<line x1="300.4" y1="396" x2="308.9" y2="396" stroke="#7a2020" stroke-width="0.9"/>
<circle cx="304.65" cy="373" r="1.05" fill="#111"/>
<line x1="313.7" y1="382.5" x2="313.7" y2="395.5" stroke="#111" stroke-width="2.2"/>
<circle cx="313.7" cy="382.5" r="1.1" fill="#111"/>
<line x1="313.7" y1="393.5" x2="313.7" y2="395.5" stroke="#4a4a4a" stroke-width="0.6"/>
<line x1="313.7" y1="398" x2="313.7" y2="399" stroke="#4a4a4a" stroke-width="0.6"/>
<rect x="309.4" y="395.5" width="8.6" height="2.5" fill="#157a6e" stroke="#0d4a42" stroke-width="0.65"/>
<line x1="309.4" y1="396.5" x2="318" y2="396.5" stroke="#0d4a42" stroke-width="0.9"/>
<circle cx="313.7" cy="377" r="1.05" fill="#111"/>
<text x="309.5" y="409.5" font-size="6.6" text-anchor="middle" stroke="#231f20">ARID1A</text>
<text x="331.3" y="339.2" font-size="6.1" text-anchor="middle" stroke="#231f20" transform="rotate(-90 331.3 339.2)">LUAD <tspan font-style="italic">n</tspan> = 562</text>
<text x="331.3" y="380.8" font-size="6.1" text-anchor="middle" stroke="#231f20" transform="rotate(-90 331.3 380.8)">LUSC <tspan font-style="italic">n</tspan> = 469</text>
<rect x="271.7" y="414.3" width="7.7" height="4.4" fill="#e86a6b" stroke="#7a2020" stroke-width="0.5"/>
<line x1="271.7" y1="416.5" x2="279.4" y2="416.5" stroke="#7a2020" stroke-width="0.6"/>
<text x="281" y="418.6" font-size="6.4" stroke="#231f20">Mutant</text>
<rect x="305.4" y="414.3" width="6.7" height="4.4" fill="#17a08f" stroke="#0d4a42" stroke-width="0.5"/>
<line x1="305.4" y1="416.5" x2="312.1" y2="416.5" stroke="#0d4a42" stroke-width="0.6"/>
<text x="314" y="418.6" font-size="6.4" stroke="#231f20">WT</text>
<text x="345.4" y="326.2" font-size="12.5" fill="#000" stroke="#000" font-weight="bold">F</text>
<text x="352.6" y="363.6" font-size="6.5" text-anchor="middle" stroke="#231f20" transform="rotate(-90 352.6 363.6)">Contribution</text>
<text x="390.25" y="324.9" font-size="5.9" text-anchor="middle" stroke="#231f20">KMT2C</text>
<rect x="372.5" y="328.8" width="35.5" height="72.2" fill="none" stroke="#3a3a3a" stroke-width="0.8"/>
<line x1="370.5" y1="397.6" x2="372.5" y2="397.6" stroke="#3a3a3a" stroke-width="0.7"/>
<text x="369.5" y="400.2" font-size="7.3" text-anchor="end" stroke="#231f20">0</text>
<line x1="370.5" y1="380.41" x2="372.5" y2="380.41" stroke="#3a3a3a" stroke-width="0.7"/>
<text x="369.5" y="383.01" font-size="7.3" text-anchor="end" stroke="#231f20">0.3</text>
<line x1="370.5" y1="363.22" x2="372.5" y2="363.22" stroke="#3a3a3a" stroke-width="0.7"/>
<text x="369.5" y="365.82" font-size="7.3" text-anchor="end" stroke="#231f20">0.6</text>
<line x1="370.5" y1="346.03" x2="372.5" y2="346.03" stroke="#3a3a3a" stroke-width="0.7"/>
<text x="369.5" y="348.63" font-size="7.3" text-anchor="end" stroke="#231f20">0.9</text>
<line x1="370.5" y1="328.84" x2="372.5" y2="328.84" stroke="#3a3a3a" stroke-width="0.7"/>
<text x="369.5" y="331.44" font-size="7.3" text-anchor="end" stroke="#231f20">1.2</text>
<text x="382.08" y="335.6" font-size="2.6" text-anchor="middle" fill="#555" stroke="#555">P = 1.24e-3</text>
<text x="399.12" y="335.6" font-size="2.6" text-anchor="middle" fill="#555" stroke="#555">P = 0.669</text>
<line x1="378.55" y1="344.6" x2="378.55" y2="396.8" stroke="#666" stroke-width="0.55"/>
<rect x="375.3" y="355" width="6.5" height="15.5" fill="#f0736c" stroke="#6a2a2a" stroke-width="0.5"/>
<line x1="375.3" y1="361.5" x2="381.8" y2="361.5" stroke="#6a2a2a" stroke-width="0.8"/>
<line x1="385.2" y1="343" x2="385.2" y2="399.1" stroke="#666" stroke-width="0.55"/>
<rect x="382.1" y="360.4" width="6.2" height="34.1" fill="#1db9bc" stroke="#124848" stroke-width="0.5"/>
<line x1="382.1" y1="374.3" x2="388.3" y2="374.3" stroke="#124848" stroke-width="0.8"/>
<line x1="396.2" y1="350.3" x2="396.2" y2="397.5" stroke="#666" stroke-width="0.55"/>
<rect x="393.1" y="368.6" width="6.2" height="19.2" fill="#f0736c" stroke="#6a2a2a" stroke-width="0.5"/>
<line x1="393.1" y1="377.4" x2="399.3" y2="377.4" stroke="#6a2a2a" stroke-width="0.8"/>
<line x1="402.85" y1="345.4" x2="402.85" y2="398" stroke="#666" stroke-width="0.55"/>
<rect x="399.9" y="369.2" width="5.9" height="19.8" fill="#1db9bc" stroke="#124848" stroke-width="0.5"/>
<line x1="399.9" y1="378.2" x2="405.8" y2="378.2" stroke="#124848" stroke-width="0.8"/>
<line x1="381.95" y1="401" x2="381.95" y2="402.8" stroke="#3a3a3a" stroke-width="0.7"/>
<text x="381.25" y="409.3" font-size="6.5" text-anchor="middle" stroke="#231f20">LUAD</text>
<line x1="399.6" y1="401" x2="399.6" y2="402.8" stroke="#3a3a3a" stroke-width="0.7"/>
<text x="401.1" y="409.3" font-size="6.5" text-anchor="middle" stroke="#231f20">LUSC</text>
<text x="444.6" y="324.9" font-size="5.9" text-anchor="middle" stroke="#231f20">KMT2C/D</text>
<rect x="426.2" y="328.8" width="36.8" height="72.2" fill="none" stroke="#3a3a3a" stroke-width="0.8"/>
<line x1="424.2" y1="397.6" x2="426.2" y2="397.6" stroke="#3a3a3a" stroke-width="0.7"/>
<text x="423.2" y="400.2" font-size="7.3" text-anchor="end" stroke="#231f20">0</text>
<line x1="424.2" y1="380.41" x2="426.2" y2="380.41" stroke="#3a3a3a" stroke-width="0.7"/>
<text x="423.2" y="383.01" font-size="7.3" text-anchor="end" stroke="#231f20">0.3</text>
<line x1="424.2" y1="363.22" x2="426.2" y2="363.22" stroke="#3a3a3a" stroke-width="0.7"/>
<text x="423.2" y="365.82" font-size="7.3" text-anchor="end" stroke="#231f20">0.6</text>
<line x1="424.2" y1="346.03" x2="426.2" y2="346.03" stroke="#3a3a3a" stroke-width="0.7"/>
<text x="423.2" y="348.63" font-size="7.3" text-anchor="end" stroke="#231f20">0.9</text>
<line x1="424.2" y1="328.84" x2="426.2" y2="328.84" stroke="#3a3a3a" stroke-width="0.7"/>
<text x="423.2" y="331.44" font-size="7.3" text-anchor="end" stroke="#231f20">1.2</text>
<text x="436.14" y="335.6" font-size="2.6" text-anchor="middle" fill="#555" stroke="#555">P = 3.86e-6</text>
<text x="453.8" y="335.6" font-size="2.6" text-anchor="middle" fill="#555" stroke="#555">P = 0.682</text>
<line x1="432.5" y1="344.6" x2="432.5" y2="397" stroke="#666" stroke-width="0.55"/>
<rect x="429.2" y="355.4" width="6.6" height="23.6" fill="#f0736c" stroke="#6a2a2a" stroke-width="0.5"/>
<line x1="429.2" y1="362.3" x2="435.8" y2="362.3" stroke="#6a2a2a" stroke-width="0.8"/>
<line x1="439.5" y1="343" x2="439.5" y2="399" stroke="#666" stroke-width="0.55"/>
<rect x="436.3" y="360.4" width="6.4" height="33.4" fill="#1db9bc" stroke="#124848" stroke-width="0.5"/>
<line x1="436.3" y1="375.2" x2="442.7" y2="375.2" stroke="#124848" stroke-width="0.8"/>
<line x1="450.35" y1="345.5" x2="450.35" y2="397.5" stroke="#666" stroke-width="0.55"/>
<rect x="447" y="368.5" width="6.7" height="18.2" fill="#f0736c" stroke="#6a2a2a" stroke-width="0.5"/>
<line x1="447" y1="375.2" x2="453.7" y2="375.2" stroke="#6a2a2a" stroke-width="0.8"/>
<line x1="457.5" y1="345.4" x2="457.5" y2="398" stroke="#666" stroke-width="0.55"/>
<rect x="454.2" y="369.4" width="6.6" height="20.2" fill="#1db9bc" stroke="#124848" stroke-width="0.5"/>
<line x1="454.2" y1="378.5" x2="460.8" y2="378.5" stroke="#124848" stroke-width="0.8"/>
<line x1="436.05" y1="401" x2="436.05" y2="402.8" stroke="#3a3a3a" stroke-width="0.7"/>
<text x="435.35" y="409.3" font-size="6.5" text-anchor="middle" stroke="#231f20">LUAD</text>
<line x1="453.95" y1="401" x2="453.95" y2="402.8" stroke="#3a3a3a" stroke-width="0.7"/>
<text x="455.45" y="409.3" font-size="6.5" text-anchor="middle" stroke="#231f20">LUSC</text>
<text x="499.05" y="324.9" font-size="5.9" text-anchor="middle" stroke="#231f20">KMT2A/B/C/D</text>
<rect x="480.8" y="328.8" width="36.5" height="72.2" fill="none" stroke="#3a3a3a" stroke-width="0.8"/>
<line x1="478.8" y1="397.6" x2="480.8" y2="397.6" stroke="#3a3a3a" stroke-width="0.7"/>
<text x="477.8" y="400.2" font-size="7.3" text-anchor="end" stroke="#231f20">0</text>
<line x1="478.8" y1="380.41" x2="480.8" y2="380.41" stroke="#3a3a3a" stroke-width="0.7"/>
<text x="477.8" y="383.01" font-size="7.3" text-anchor="end" stroke="#231f20">0.3</text>
<line x1="478.8" y1="363.22" x2="480.8" y2="363.22" stroke="#3a3a3a" stroke-width="0.7"/>
<text x="477.8" y="365.82" font-size="7.3" text-anchor="end" stroke="#231f20">0.6</text>
<line x1="478.8" y1="346.03" x2="480.8" y2="346.03" stroke="#3a3a3a" stroke-width="0.7"/>
<text x="477.8" y="348.63" font-size="7.3" text-anchor="end" stroke="#231f20">0.9</text>
<line x1="478.8" y1="328.84" x2="480.8" y2="328.84" stroke="#3a3a3a" stroke-width="0.7"/>
<text x="477.8" y="331.44" font-size="7.3" text-anchor="end" stroke="#231f20">1.2</text>
<text x="490.65" y="335.6" font-size="2.6" text-anchor="middle" fill="#555" stroke="#555">P = 2.39e-10</text>
<text x="508.17" y="335.6" font-size="2.6" text-anchor="middle" fill="#555" stroke="#555">P = 0.0179</text>
<line x1="487.3" y1="344.6" x2="487.3" y2="397" stroke="#666" stroke-width="0.55"/>
<rect x="484.4" y="355" width="5.8" height="20.2" fill="#f0736c" stroke="#6a2a2a" stroke-width="0.5"/>
<line x1="484.4" y1="361.2" x2="490.2" y2="361.2" stroke="#6a2a2a" stroke-width="0.8"/>
<line x1="493.8" y1="343" x2="493.8" y2="399" stroke="#666" stroke-width="0.55"/>
<rect x="490.6" y="361.7" width="6.4" height="34.6" fill="#1db9bc" stroke="#124848" stroke-width="0.5"/>
<line x1="490.6" y1="377.1" x2="497" y2="377.1" stroke="#124848" stroke-width="0.8"/>
<line x1="504.85" y1="346" x2="504.85" y2="397.5" stroke="#666" stroke-width="0.55"/>
<rect x="501.7" y="367.5" width="6.3" height="18.3" fill="#f0736c" stroke="#6a2a2a" stroke-width="0.5"/>
<line x1="501.7" y1="374.6" x2="508" y2="374.6" stroke="#6a2a2a" stroke-width="0.8"/>
<line x1="511.55" y1="345.4" x2="511.55" y2="398" stroke="#666" stroke-width="0.55"/>
<rect x="508.5" y="370" width="6.1" height="20" fill="#1db9bc" stroke="#124848" stroke-width="0.5"/>
<line x1="508.5" y1="378.5" x2="514.6" y2="378.5" stroke="#124848" stroke-width="0.8"/>
<line x1="490.4" y1="401" x2="490.4" y2="402.8" stroke="#3a3a3a" stroke-width="0.7"/>
<text x="489.7" y="409.3" font-size="6.5" text-anchor="middle" stroke="#231f20">LUAD</text>
<line x1="508.25" y1="401" x2="508.25" y2="402.8" stroke="#3a3a3a" stroke-width="0.7"/>
<text x="509.75" y="409.3" font-size="6.5" text-anchor="middle" stroke="#231f20">LUSC</text>
<rect x="466.2" y="414.2" width="6.1" height="4.4" fill="#f0736c" stroke="#6a2a2a" stroke-width="0.5"/>
<line x1="466.2" y1="416.4" x2="472.3" y2="416.4" stroke="#6a2a2a" stroke-width="0.6"/>
<text x="474.8" y="418.5" font-size="6.3" stroke="#231f20">Mutant</text>
<rect x="498.8" y="414.2" width="6.8" height="4.4" fill="#1db9bc" stroke="#124848" stroke-width="0.5"/>
<line x1="498.8" y1="416.4" x2="505.6" y2="416.4" stroke="#124848" stroke-width="0.6"/>
<text x="507.5" y="418.5" font-size="6.3" stroke="#231f20">WT</text>
</svg></body></html>
